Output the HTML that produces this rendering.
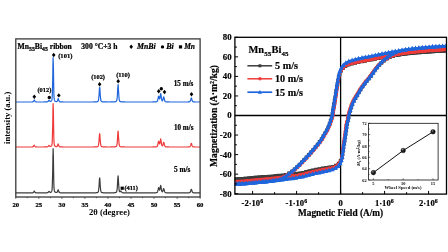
<!DOCTYPE html>
<html><head><meta charset="utf-8"><title>Mn55Bi45 ribbon XRD and hysteresis</title>
<style>html,body{margin:0;padding:0;background:#fff;overflow:hidden}svg{display:block}text{font-family:"Liberation Serif","DejaVu Serif",serif;font-weight:bold;fill:#000}.i{font-style:italic}.b text{stroke:#000;stroke-width:0.22px}.c text{stroke:#000;stroke-width:0.18px}.c .n text{stroke:none}</style></head><body>
<svg width="448" height="252" viewBox="0 0 448 252">
<rect width="448" height="252" fill="#fff"/>
<polyline points="15.8,192.9 16.0,192.9 16.3,192.9 16.5,192.9 16.7,192.9 17.0,192.9 17.2,192.9 17.4,192.9 17.6,192.9 17.9,192.9 18.1,192.9 18.3,192.9 18.6,192.9 18.8,192.9 19.0,192.9 19.3,192.9 19.5,192.9 19.7,192.9 19.9,192.9 20.2,192.9 20.4,192.9 20.6,192.9 20.9,192.9 21.1,192.9 21.3,192.9 21.6,192.9 21.8,192.9 22.0,192.9 22.3,192.9 22.5,192.9 22.7,192.9 22.9,192.9 23.2,192.9 23.4,192.9 23.6,192.9 23.9,192.9 24.1,192.9 24.3,192.9 24.6,192.9 24.8,192.9 25.0,192.9 25.2,192.9 25.5,192.9 25.7,192.9 25.9,192.9 26.2,192.9 26.4,192.9 26.6,192.9 26.9,192.9 27.1,192.9 27.3,192.9 27.5,192.9 27.8,192.9 28.0,192.9 28.2,192.9 28.5,192.9 28.7,192.9 28.9,192.9 29.2,192.9 29.4,192.9 29.6,192.9 29.9,192.9 30.1,192.9 30.3,192.9 30.5,192.9 30.8,192.9 31.0,192.9 31.2,192.9 31.5,192.9 31.7,192.9 31.9,192.9 32.2,192.8 32.4,192.8 32.6,192.8 32.8,192.8 33.1,192.7 33.3,192.5 33.5,192.2 33.8,191.8 34.0,191.3 34.2,191.1 34.5,191.3 34.7,191.8 34.9,192.2 35.2,192.5 35.4,192.7 35.6,192.8 35.8,192.8 36.1,192.8 36.3,192.8 36.5,192.9 36.8,192.9 37.0,192.9 37.2,192.9 37.5,192.9 37.7,192.9 37.9,192.9 38.1,192.9 38.4,192.9 38.6,192.9 38.8,192.9 39.1,192.9 39.3,192.9 39.5,192.9 39.8,192.9 40.0,192.9 40.2,192.9 40.5,192.9 40.7,192.9 40.9,192.9 41.1,192.9 41.4,192.9 41.6,192.9 41.8,192.9 42.1,192.9 42.3,192.9 42.5,192.9 42.8,192.9 43.0,192.9 43.2,192.9 43.4,192.9 43.7,192.9 43.9,192.9 44.1,192.8 44.4,192.8 44.6,192.8 44.8,192.8 45.1,192.8 45.3,192.8 45.5,192.8 45.7,192.8 46.0,192.8 46.2,192.8 46.4,192.8 46.7,192.8 46.9,192.8 47.1,192.7 47.4,192.7 47.6,192.6 47.8,192.5 48.1,192.4 48.3,192.1 48.5,191.8 48.7,191.6 49.0,191.4 49.2,191.5 49.4,191.8 49.7,192.0 49.9,192.2 50.1,192.3 50.4,192.4 50.6,192.3 50.8,192.3 51.0,192.2 51.3,192.0 51.5,191.8 51.7,191.3 52.0,190.4 52.2,187.9 52.4,182.2 52.7,171.7 52.9,157.4 53.1,148.7 53.4,157.4 53.6,171.7 53.8,182.2 54.0,187.9 54.3,190.4 54.5,191.3 54.7,191.8 55.0,192.0 55.2,192.2 55.4,192.3 55.7,192.4 55.9,192.4 56.1,192.5 56.3,192.5 56.6,192.5 56.8,192.4 57.0,192.3 57.3,192.0 57.5,191.5 57.7,190.8 58.0,190.1 58.2,189.8 58.4,190.2 58.6,190.9 58.9,191.6 59.1,192.1 59.3,192.4 59.6,192.6 59.8,192.7 60.0,192.7 60.3,192.8 60.5,192.8 60.7,192.8 61.0,192.8 61.2,192.8 61.4,192.8 61.6,192.8 61.9,192.8 62.1,192.8 62.3,192.8 62.6,192.8 62.8,192.8 63.0,192.9 63.3,192.9 63.5,192.9 63.7,192.9 63.9,192.9 64.2,192.9 64.4,192.9 64.6,192.9 64.9,192.9 65.1,192.9 65.3,192.9 65.6,192.9 65.8,192.9 66.0,192.9 66.3,192.9 66.5,192.9 66.7,192.9 66.9,192.9 67.2,192.9 67.4,192.9 67.6,192.9 67.9,192.9 68.1,192.9 68.3,192.9 68.6,192.9 68.8,192.9 69.0,192.9 69.2,192.9 69.5,192.9 69.7,192.9 69.9,192.9 70.2,192.9 70.4,192.9 70.6,192.9 70.9,192.9 71.1,192.9 71.3,192.9 71.6,192.9 71.8,192.9 72.0,192.9 72.2,192.9 72.5,192.9 72.7,192.9 72.9,192.9 73.2,192.9 73.4,192.9 73.6,192.9 73.9,192.9 74.1,192.9 74.3,192.9 74.5,192.9 74.8,192.9 75.0,192.9 75.2,192.9 75.5,192.9 75.7,192.9 75.9,192.9 76.2,192.9 76.4,192.9 76.6,192.9 76.8,192.9 77.1,192.9 77.3,192.9 77.5,192.9 77.8,192.9 78.0,192.9 78.2,192.9 78.5,192.9 78.7,192.9 78.9,192.9 79.2,192.9 79.4,192.9 79.6,192.9 79.8,192.9 80.1,192.9 80.3,192.9 80.5,192.9 80.8,192.9 81.0,192.9 81.2,192.9 81.5,192.9 81.7,192.9 81.9,192.9 82.1,192.9 82.4,192.9 82.6,192.9 82.8,192.9 83.1,192.9 83.3,192.9 83.5,192.9 83.8,192.9 84.0,192.9 84.2,192.9 84.5,192.9 84.7,192.9 84.9,192.9 85.1,192.9 85.4,192.9 85.6,192.9 85.8,192.9 86.1,192.9 86.3,192.9 86.5,192.9 86.8,192.9 87.0,192.9 87.2,192.9 87.4,192.9 87.7,192.9 87.9,192.9 88.1,192.9 88.4,192.9 88.6,192.9 88.8,192.9 89.1,192.9 89.3,192.9 89.5,192.9 89.8,192.9 90.0,192.9 90.2,192.9 90.4,192.9 90.7,192.9 90.9,192.9 91.1,192.9 91.4,192.9 91.6,192.9 91.8,192.9 92.1,192.9 92.3,192.9 92.5,192.9 92.7,192.9 93.0,192.9 93.2,192.9 93.4,192.8 93.7,192.8 93.9,192.8 94.1,192.8 94.4,192.8 94.6,192.8 94.8,192.8 95.0,192.8 95.3,192.8 95.5,192.8 95.7,192.8 96.0,192.8 96.2,192.7 96.4,192.7 96.7,192.7 96.9,192.7 97.1,192.6 97.4,192.6 97.6,192.5 97.8,192.4 98.0,192.2 98.3,191.7 98.5,190.9 98.7,189.3 99.0,186.7 99.2,183.3 99.4,179.7 99.7,177.9 99.9,179.7 100.1,183.3 100.3,186.7 100.6,189.3 100.8,190.9 101.0,191.7 101.3,192.2 101.5,192.4 101.7,192.5 102.0,192.6 102.2,192.6 102.4,192.7 102.7,192.7 102.9,192.7 103.1,192.7 103.3,192.8 103.6,192.8 103.8,192.8 104.0,192.8 104.3,192.8 104.5,192.8 104.7,192.8 105.0,192.8 105.2,192.8 105.4,192.8 105.6,192.8 105.9,192.8 106.1,192.8 106.3,192.8 106.6,192.8 106.8,192.8 107.0,192.8 107.3,192.8 107.5,192.8 107.7,192.8 108.0,192.9 108.2,192.9 108.4,192.9 108.6,192.9 108.9,192.9 109.1,192.9 109.3,192.9 109.6,192.8 109.8,192.8 110.0,192.8 110.3,192.8 110.5,192.8 110.7,192.8 110.9,192.8 111.2,192.8 111.4,192.8 111.6,192.8 111.9,192.8 112.1,192.8 112.3,192.8 112.6,192.8 112.8,192.8 113.0,192.8 113.2,192.8 113.5,192.8 113.7,192.8 113.9,192.8 114.2,192.8 114.4,192.7 114.6,192.7 114.9,192.7 115.1,192.7 115.3,192.6 115.6,192.6 115.8,192.5 116.0,192.4 116.2,192.3 116.5,192.0 116.7,191.6 116.9,190.6 117.2,188.8 117.4,185.9 117.6,182.0 117.9,177.9 118.1,175.9 118.3,177.9 118.5,182.0 118.8,185.9 119.0,188.7 119.2,190.5 119.5,191.4 119.7,191.7 119.9,191.8 120.2,191.7 120.4,191.4 120.6,191.1 120.9,191.0 121.1,191.2 121.3,191.6 121.5,191.9 121.8,192.2 122.0,192.5 122.2,192.6 122.5,192.7 122.7,192.7 122.9,192.8 123.2,192.8 123.4,192.8 123.6,192.8 123.8,192.8 124.1,192.8 124.3,192.8 124.5,192.8 124.8,192.8 125.0,192.8 125.2,192.8 125.5,192.8 125.7,192.8 125.9,192.9 126.1,192.9 126.4,192.9 126.6,192.9 126.8,192.9 127.1,192.9 127.3,192.9 127.5,192.9 127.8,192.9 128.0,192.9 128.2,192.9 128.5,192.9 128.7,192.9 128.9,192.9 129.1,192.9 129.4,192.9 129.6,192.9 129.8,192.9 130.1,192.9 130.3,192.9 130.5,192.9 130.8,192.9 131.0,192.9 131.2,192.9 131.4,192.9 131.7,192.9 131.9,192.9 132.1,192.9 132.4,192.9 132.6,192.9 132.8,192.9 133.1,192.9 133.3,192.9 133.5,192.9 133.8,192.9 134.0,192.9 134.2,192.9 134.4,192.9 134.7,192.9 134.9,192.9 135.1,192.9 135.4,192.9 135.6,192.9 135.8,192.9 136.1,192.9 136.3,192.9 136.5,192.9 136.7,192.9 137.0,192.9 137.2,192.9 137.4,192.9 137.7,192.9 137.9,192.9 138.1,192.9 138.4,192.9 138.6,192.9 138.8,192.9 139.1,192.9 139.3,192.9 139.5,192.9 139.7,192.9 140.0,192.9 140.2,192.9 140.4,192.9 140.7,192.9 140.9,192.9 141.1,192.9 141.4,192.9 141.6,192.9 141.8,192.9 142.0,192.9 142.3,192.9 142.5,192.9 142.7,192.9 143.0,192.9 143.2,192.9 143.4,192.9 143.7,192.9 143.9,192.9 144.1,192.9 144.3,192.9 144.6,192.9 144.8,192.9 145.0,192.9 145.3,192.9 145.5,192.9 145.7,192.9 146.0,192.9 146.2,192.9 146.4,192.9 146.7,192.9 146.9,192.9 147.1,192.9 147.3,192.9 147.6,192.9 147.8,192.9 148.0,192.9 148.3,192.9 148.5,192.9 148.7,192.9 149.0,192.9 149.2,192.9 149.4,192.9 149.6,192.9 149.9,192.9 150.1,192.9 150.3,192.9 150.6,192.9 150.8,192.9 151.0,192.9 151.3,192.9 151.5,192.9 151.7,192.9 152.0,192.9 152.2,192.9 152.4,192.9 152.6,192.9 152.9,192.9 153.1,192.8 153.3,192.8 153.6,192.8 153.8,192.8 154.0,192.8 154.3,192.8 154.5,192.8 154.7,192.8 154.9,192.8 155.2,192.8 155.4,192.8 155.6,192.8 155.9,192.7 156.1,192.7 156.3,192.7 156.6,192.6 156.8,192.6 157.0,192.4 157.3,192.2 157.5,191.8 157.7,191.2 157.9,190.3 158.2,189.2 158.4,188.2 158.6,187.6 158.9,188.1 159.1,188.9 159.3,189.7 159.6,190.1 159.8,189.9 160.0,189.0 160.2,187.7 160.5,186.2 160.7,185.4 160.9,186.2 161.2,187.9 161.4,189.4 161.6,190.6 161.9,191.4 162.1,191.8 162.3,191.9 162.5,191.7 162.8,191.3 163.0,190.6 163.2,189.8 163.5,188.9 163.7,188.6 163.9,189.0 164.2,189.9 164.4,190.7 164.6,191.5 164.9,192.0 165.1,192.3 165.3,192.5 165.5,192.6 165.8,192.7 166.0,192.7 166.2,192.8 166.5,192.8 166.7,192.8 166.9,192.8 167.2,192.8 167.4,192.8 167.6,192.8 167.8,192.8 168.1,192.8 168.3,192.8 168.5,192.8 168.8,192.8 169.0,192.9 169.2,192.9 169.5,192.9 169.7,192.9 169.9,192.9 170.2,192.9 170.4,192.9 170.6,192.9 170.8,192.9 171.1,192.9 171.3,192.9 171.5,192.9 171.8,192.9 172.0,192.9 172.2,192.9 172.5,192.9 172.7,192.9 172.9,192.9 173.1,192.9 173.4,192.9 173.6,192.9 173.8,192.9 174.1,192.9 174.3,192.9 174.5,192.9 174.8,192.9 175.0,192.9 175.2,192.9 175.4,192.9 175.7,192.9 175.9,192.9 176.1,192.9 176.4,192.9 176.6,192.9 176.8,192.9 177.1,192.9 177.3,192.9 177.5,192.9 177.8,192.9 178.0,192.9 178.2,192.9 178.4,192.9 178.7,192.9 178.9,192.9 179.1,192.9 179.4,192.9 179.6,192.9 179.8,192.9 180.1,192.9 180.3,192.9 180.5,192.9 180.7,192.9 181.0,192.9 181.2,192.9 181.4,192.9 181.7,192.9 181.9,192.9 182.1,192.9 182.4,192.9 182.6,192.9 182.8,192.9 183.1,192.9 183.3,192.9 183.5,192.9 183.7,192.9 184.0,192.9 184.2,192.9 184.4,192.9 184.7,192.9 184.9,192.9 185.1,192.9 185.4,192.9 185.6,192.9 185.8,192.9 186.0,192.9 186.3,192.9 186.5,192.9 186.7,192.9 187.0,192.9 187.2,192.9 187.4,192.9 187.7,192.9 187.9,192.8 188.1,192.8 188.4,192.8 188.6,192.8 188.8,192.8 189.0,192.8 189.3,192.8 189.5,192.7 189.7,192.6 190.0,192.5 190.2,192.2 190.4,191.8 190.7,191.1 190.9,190.4 191.1,189.6 191.3,189.3 191.6,189.6 191.8,190.4 192.0,191.1 192.3,191.8 192.5,192.2 192.7,192.5 193.0,192.6 193.2,192.7 193.4,192.8 193.6,192.8 193.9,192.8 194.1,192.8 194.3,192.8 194.6,192.8 194.8,192.9 195.0,192.9 195.3,192.9 195.5,192.9 195.7,192.9 196.0,192.9 196.2,192.9 196.4,192.9 196.6,192.9 196.9,192.9 197.1,192.9 197.3,192.9 197.6,192.9 197.8,192.9 198.0,192.9 198.3,192.9 198.5,192.9 198.7,192.9 198.9,192.9 199.2,192.9 199.4,192.9 199.6,192.9 199.9,192.9 200.1,192.9" fill="none" stroke="#3c3c3c" stroke-width="1.2" stroke-linejoin="round"/>
<polyline points="15.8,147.0 16.0,147.0 16.3,147.0 16.5,147.0 16.7,147.0 17.0,147.0 17.2,147.0 17.4,147.0 17.6,147.0 17.9,147.0 18.1,147.0 18.3,147.0 18.6,147.0 18.8,147.0 19.0,147.0 19.3,147.0 19.5,147.0 19.7,147.0 19.9,147.0 20.2,147.0 20.4,147.0 20.6,147.0 20.9,147.0 21.1,147.0 21.3,147.0 21.6,147.0 21.8,147.0 22.0,147.0 22.3,147.0 22.5,147.0 22.7,147.0 22.9,147.0 23.2,147.0 23.4,147.0 23.6,147.0 23.9,147.0 24.1,147.0 24.3,147.0 24.6,147.0 24.8,147.0 25.0,147.0 25.2,147.0 25.5,147.0 25.7,147.0 25.9,147.0 26.2,147.0 26.4,147.0 26.6,147.0 26.9,147.0 27.1,147.0 27.3,147.0 27.5,147.0 27.8,147.0 28.0,147.0 28.2,147.0 28.5,147.0 28.7,147.0 28.9,147.0 29.2,147.0 29.4,147.0 29.6,147.0 29.9,147.0 30.1,147.0 30.3,147.0 30.5,147.0 30.8,147.0 31.0,147.0 31.2,147.0 31.5,147.0 31.7,147.0 31.9,147.0 32.2,146.9 32.4,146.9 32.6,146.9 32.8,146.9 33.1,146.8 33.3,146.6 33.5,146.3 33.8,145.9 34.0,145.4 34.2,145.2 34.5,145.4 34.7,145.9 34.9,146.3 35.2,146.6 35.4,146.8 35.6,146.9 35.8,146.9 36.1,146.9 36.3,146.9 36.5,147.0 36.8,147.0 37.0,147.0 37.2,147.0 37.5,147.0 37.7,147.0 37.9,147.0 38.1,147.0 38.4,147.0 38.6,147.0 38.8,147.0 39.1,147.0 39.3,147.0 39.5,147.0 39.8,147.0 40.0,147.0 40.2,147.0 40.5,147.0 40.7,147.0 40.9,147.0 41.1,147.0 41.4,147.0 41.6,147.0 41.8,147.0 42.1,147.0 42.3,147.0 42.5,147.0 42.8,147.0 43.0,147.0 43.2,147.0 43.4,147.0 43.7,147.0 43.9,147.0 44.1,146.9 44.4,146.9 44.6,146.9 44.8,146.9 45.1,146.9 45.3,146.9 45.5,146.9 45.7,146.9 46.0,146.9 46.2,146.9 46.4,146.9 46.7,146.9 46.9,146.9 47.1,146.8 47.4,146.8 47.6,146.7 47.8,146.6 48.1,146.4 48.3,146.2 48.5,145.9 48.7,145.6 49.0,145.4 49.2,145.5 49.4,145.8 49.7,146.1 49.9,146.3 50.1,146.4 50.4,146.5 50.6,146.4 50.8,146.4 51.0,146.3 51.3,146.1 51.5,145.9 51.7,145.5 52.0,144.5 52.2,142.1 52.4,136.5 52.7,126.1 52.9,112.1 53.1,103.5 53.4,112.1 53.6,126.1 53.8,136.5 54.0,142.1 54.3,144.5 54.5,145.5 54.7,145.9 55.0,146.1 55.2,146.3 55.4,146.4 55.7,146.5 55.9,146.6 56.1,146.6 56.3,146.6 56.6,146.6 56.8,146.5 57.0,146.4 57.3,146.1 57.5,145.6 57.7,144.9 58.0,144.2 58.2,143.9 58.4,144.3 58.6,145.0 58.9,145.7 59.1,146.2 59.3,146.5 59.6,146.7 59.8,146.8 60.0,146.8 60.3,146.9 60.5,146.9 60.7,146.9 61.0,146.9 61.2,146.9 61.4,146.9 61.6,146.9 61.9,146.9 62.1,146.9 62.3,146.9 62.6,146.9 62.8,146.9 63.0,147.0 63.3,147.0 63.5,147.0 63.7,147.0 63.9,147.0 64.2,147.0 64.4,147.0 64.6,147.0 64.9,147.0 65.1,147.0 65.3,147.0 65.6,147.0 65.8,147.0 66.0,147.0 66.3,147.0 66.5,147.0 66.7,147.0 66.9,147.0 67.2,147.0 67.4,147.0 67.6,147.0 67.9,147.0 68.1,147.0 68.3,147.0 68.6,147.0 68.8,147.0 69.0,147.0 69.2,147.0 69.5,147.0 69.7,147.0 69.9,147.0 70.2,147.0 70.4,147.0 70.6,147.0 70.9,147.0 71.1,147.0 71.3,147.0 71.6,147.0 71.8,147.0 72.0,147.0 72.2,147.0 72.5,147.0 72.7,147.0 72.9,147.0 73.2,147.0 73.4,147.0 73.6,147.0 73.9,147.0 74.1,147.0 74.3,147.0 74.5,147.0 74.8,147.0 75.0,147.0 75.2,147.0 75.5,147.0 75.7,147.0 75.9,147.0 76.2,147.0 76.4,147.0 76.6,147.0 76.8,147.0 77.1,147.0 77.3,147.0 77.5,147.0 77.8,147.0 78.0,147.0 78.2,147.0 78.5,147.0 78.7,147.0 78.9,147.0 79.2,147.0 79.4,147.0 79.6,147.0 79.8,147.0 80.1,147.0 80.3,147.0 80.5,147.0 80.8,147.0 81.0,147.0 81.2,147.0 81.5,147.0 81.7,147.0 81.9,147.0 82.1,147.0 82.4,147.0 82.6,147.0 82.8,147.0 83.1,147.0 83.3,147.0 83.5,147.0 83.8,147.0 84.0,147.0 84.2,147.0 84.5,147.0 84.7,147.0 84.9,147.0 85.1,147.0 85.4,147.0 85.6,147.0 85.8,147.0 86.1,147.0 86.3,147.0 86.5,147.0 86.8,147.0 87.0,147.0 87.2,147.0 87.4,147.0 87.7,147.0 87.9,147.0 88.1,147.0 88.4,147.0 88.6,147.0 88.8,147.0 89.1,147.0 89.3,147.0 89.5,147.0 89.8,147.0 90.0,147.0 90.2,147.0 90.4,147.0 90.7,147.0 90.9,147.0 91.1,147.0 91.4,147.0 91.6,147.0 91.8,147.0 92.1,147.0 92.3,147.0 92.5,147.0 92.7,147.0 93.0,147.0 93.2,147.0 93.4,147.0 93.7,146.9 93.9,146.9 94.1,146.9 94.4,146.9 94.6,146.9 94.8,146.9 95.0,146.9 95.3,146.9 95.5,146.9 95.7,146.9 96.0,146.9 96.2,146.9 96.4,146.8 96.7,146.8 96.9,146.8 97.1,146.8 97.4,146.7 97.6,146.6 97.8,146.5 98.0,146.3 98.3,145.9 98.5,145.2 98.7,143.7 99.0,141.5 99.2,138.4 99.4,135.1 99.7,133.5 99.9,135.1 100.1,138.4 100.3,141.5 100.6,143.7 100.8,145.2 101.0,145.9 101.3,146.3 101.5,146.5 101.7,146.6 102.0,146.7 102.2,146.7 102.4,146.8 102.7,146.8 102.9,146.8 103.1,146.9 103.3,146.9 103.6,146.9 103.8,146.9 104.0,146.9 104.3,146.9 104.5,146.9 104.7,146.9 105.0,146.9 105.2,146.9 105.4,146.9 105.6,146.9 105.9,146.9 106.1,146.9 106.3,146.9 106.6,146.9 106.8,147.0 107.0,147.0 107.3,147.0 107.5,147.0 107.7,147.0 108.0,147.0 108.2,147.0 108.4,147.0 108.6,147.0 108.9,147.0 109.1,147.0 109.3,147.0 109.6,147.0 109.8,147.0 110.0,147.0 110.3,147.0 110.5,147.0 110.7,146.9 110.9,146.9 111.2,146.9 111.4,146.9 111.6,146.9 111.9,146.9 112.1,146.9 112.3,146.9 112.6,146.9 112.8,146.9 113.0,146.9 113.2,146.9 113.5,146.9 113.7,146.9 113.9,146.9 114.2,146.9 114.4,146.9 114.6,146.8 114.9,146.8 115.1,146.8 115.3,146.7 115.6,146.7 115.8,146.6 116.0,146.6 116.2,146.4 116.5,146.2 116.7,145.7 116.9,144.8 117.2,143.1 117.4,140.4 117.6,136.8 117.9,132.9 118.1,131.0 118.3,132.9 118.5,136.8 118.8,140.4 119.0,143.1 119.2,144.8 119.5,145.7 119.7,146.2 119.9,146.4 120.2,146.6 120.4,146.6 120.6,146.7 120.9,146.8 121.1,146.8 121.3,146.8 121.5,146.8 121.8,146.9 122.0,146.9 122.2,146.9 122.5,146.9 122.7,146.9 122.9,146.9 123.2,146.9 123.4,146.9 123.6,146.9 123.8,146.9 124.1,146.9 124.3,146.9 124.5,146.9 124.8,147.0 125.0,147.0 125.2,147.0 125.5,147.0 125.7,147.0 125.9,147.0 126.1,147.0 126.4,147.0 126.6,147.0 126.8,147.0 127.1,147.0 127.3,147.0 127.5,147.0 127.8,147.0 128.0,147.0 128.2,147.0 128.5,147.0 128.7,147.0 128.9,147.0 129.1,147.0 129.4,147.0 129.6,147.0 129.8,147.0 130.1,147.0 130.3,147.0 130.5,147.0 130.8,147.0 131.0,147.0 131.2,147.0 131.4,147.0 131.7,147.0 131.9,147.0 132.1,147.0 132.4,147.0 132.6,147.0 132.8,147.0 133.1,147.0 133.3,147.0 133.5,147.0 133.8,147.0 134.0,147.0 134.2,147.0 134.4,147.0 134.7,147.0 134.9,147.0 135.1,147.0 135.4,147.0 135.6,147.0 135.8,147.0 136.1,147.0 136.3,147.0 136.5,147.0 136.7,147.0 137.0,147.0 137.2,147.0 137.4,147.0 137.7,147.0 137.9,147.0 138.1,147.0 138.4,147.0 138.6,147.0 138.8,147.0 139.1,147.0 139.3,147.0 139.5,147.0 139.7,147.0 140.0,147.0 140.2,147.0 140.4,147.0 140.7,147.0 140.9,147.0 141.1,147.0 141.4,147.0 141.6,147.0 141.8,147.0 142.0,147.0 142.3,147.0 142.5,147.0 142.7,147.0 143.0,147.0 143.2,147.0 143.4,147.0 143.7,147.0 143.9,147.0 144.1,147.0 144.3,147.0 144.6,147.0 144.8,147.0 145.0,147.0 145.3,147.0 145.5,147.0 145.7,147.0 146.0,147.0 146.2,147.0 146.4,147.0 146.7,147.0 146.9,147.0 147.1,147.0 147.3,147.0 147.6,147.0 147.8,147.0 148.0,147.0 148.3,147.0 148.5,147.0 148.7,147.0 149.0,147.0 149.2,147.0 149.4,147.0 149.6,147.0 149.9,147.0 150.1,147.0 150.3,147.0 150.6,147.0 150.8,147.0 151.0,147.0 151.3,147.0 151.5,147.0 151.7,147.0 152.0,147.0 152.2,147.0 152.4,147.0 152.6,147.0 152.9,146.9 153.1,146.9 153.3,146.9 153.6,146.9 153.8,146.9 154.0,146.9 154.3,146.9 154.5,146.9 154.7,146.9 154.9,146.9 155.2,146.9 155.4,146.9 155.6,146.9 155.9,146.8 156.1,146.8 156.3,146.8 156.6,146.7 156.8,146.6 157.0,146.5 157.3,146.2 157.5,145.8 157.7,145.1 157.9,144.2 158.2,143.0 158.4,141.8 158.6,141.2 158.9,141.7 159.1,142.7 159.3,143.5 159.6,143.9 159.8,143.7 160.0,142.8 160.2,141.3 160.5,139.7 160.7,138.9 160.9,139.8 161.2,141.5 161.4,143.2 161.6,144.6 161.9,145.4 162.1,145.8 162.3,145.9 162.5,145.7 162.8,145.3 163.0,144.6 163.2,143.7 163.5,142.8 163.7,142.3 163.9,142.8 164.2,143.7 164.4,144.7 164.6,145.5 164.9,146.0 165.1,146.4 165.3,146.6 165.5,146.7 165.8,146.8 166.0,146.8 166.2,146.8 166.5,146.9 166.7,146.9 166.9,146.9 167.2,146.9 167.4,146.9 167.6,146.9 167.8,146.9 168.1,146.9 168.3,146.9 168.5,146.9 168.8,146.9 169.0,146.9 169.2,147.0 169.5,147.0 169.7,147.0 169.9,147.0 170.2,147.0 170.4,147.0 170.6,147.0 170.8,147.0 171.1,147.0 171.3,147.0 171.5,147.0 171.8,147.0 172.0,147.0 172.2,147.0 172.5,147.0 172.7,147.0 172.9,147.0 173.1,147.0 173.4,147.0 173.6,147.0 173.8,147.0 174.1,147.0 174.3,147.0 174.5,147.0 174.8,147.0 175.0,147.0 175.2,147.0 175.4,147.0 175.7,147.0 175.9,147.0 176.1,147.0 176.4,147.0 176.6,147.0 176.8,147.0 177.1,147.0 177.3,147.0 177.5,147.0 177.8,147.0 178.0,147.0 178.2,147.0 178.4,147.0 178.7,147.0 178.9,147.0 179.1,147.0 179.4,147.0 179.6,147.0 179.8,147.0 180.1,147.0 180.3,147.0 180.5,147.0 180.7,147.0 181.0,147.0 181.2,147.0 181.4,147.0 181.7,147.0 181.9,147.0 182.1,147.0 182.4,147.0 182.6,147.0 182.8,147.0 183.1,147.0 183.3,147.0 183.5,147.0 183.7,147.0 184.0,147.0 184.2,147.0 184.4,147.0 184.7,147.0 184.9,147.0 185.1,147.0 185.4,147.0 185.6,147.0 185.8,147.0 186.0,147.0 186.3,147.0 186.5,147.0 186.7,147.0 187.0,147.0 187.2,147.0 187.4,147.0 187.7,147.0 187.9,146.9 188.1,146.9 188.4,146.9 188.6,146.9 188.8,146.9 189.0,146.9 189.3,146.9 189.5,146.8 189.7,146.7 190.0,146.6 190.2,146.3 190.4,145.9 190.7,145.2 190.9,144.5 191.1,143.7 191.3,143.4 191.6,143.7 191.8,144.5 192.0,145.2 192.3,145.9 192.5,146.3 192.7,146.6 193.0,146.7 193.2,146.8 193.4,146.9 193.6,146.9 193.9,146.9 194.1,146.9 194.3,146.9 194.6,146.9 194.8,147.0 195.0,147.0 195.3,147.0 195.5,147.0 195.7,147.0 196.0,147.0 196.2,147.0 196.4,147.0 196.6,147.0 196.9,147.0 197.1,147.0 197.3,147.0 197.6,147.0 197.8,147.0 198.0,147.0 198.3,147.0 198.5,147.0 198.7,147.0 198.9,147.0 199.2,147.0 199.4,147.0 199.6,147.0 199.9,147.0 200.1,147.0" fill="none" stroke="#f03a3a" stroke-width="1.2" stroke-linejoin="round"/>
<polyline points="15.8,102.0 16.0,102.0 16.3,102.0 16.5,102.0 16.7,102.0 17.0,102.0 17.2,102.0 17.4,102.0 17.6,102.0 17.9,102.0 18.1,102.0 18.3,102.0 18.6,102.0 18.8,102.0 19.0,102.0 19.3,102.0 19.5,102.0 19.7,102.0 19.9,102.0 20.2,102.0 20.4,102.0 20.6,102.0 20.9,102.0 21.1,102.0 21.3,102.0 21.6,102.0 21.8,102.0 22.0,102.0 22.3,102.0 22.5,102.0 22.7,102.0 22.9,102.0 23.2,102.0 23.4,102.0 23.6,102.0 23.9,102.0 24.1,102.0 24.3,102.0 24.6,102.0 24.8,102.0 25.0,102.0 25.2,102.0 25.5,102.0 25.7,102.0 25.9,102.0 26.2,102.0 26.4,102.0 26.6,102.0 26.9,102.0 27.1,102.0 27.3,102.0 27.5,102.0 27.8,102.0 28.0,102.0 28.2,102.0 28.5,102.0 28.7,102.0 28.9,102.0 29.2,102.0 29.4,102.0 29.6,102.0 29.9,102.0 30.1,102.0 30.3,102.0 30.5,102.0 30.8,102.0 31.0,102.0 31.2,102.0 31.5,102.0 31.7,102.0 31.9,102.0 32.2,101.9 32.4,101.9 32.6,101.9 32.8,101.9 33.1,101.8 33.3,101.6 33.5,101.3 33.8,100.8 34.0,100.3 34.2,100.0 34.5,100.3 34.7,100.8 34.9,101.3 35.2,101.6 35.4,101.8 35.6,101.9 35.8,101.9 36.1,101.9 36.3,101.9 36.5,101.9 36.8,102.0 37.0,102.0 37.2,102.0 37.5,102.0 37.7,102.0 37.9,102.0 38.1,102.0 38.4,102.0 38.6,102.0 38.8,102.0 39.1,102.0 39.3,102.0 39.5,102.0 39.8,102.0 40.0,102.0 40.2,102.0 40.5,102.0 40.7,102.0 40.9,102.0 41.1,102.0 41.4,102.0 41.6,102.0 41.8,102.0 42.1,102.0 42.3,102.0 42.5,102.0 42.8,102.0 43.0,102.0 43.2,102.0 43.4,102.0 43.7,102.0 43.9,102.0 44.1,101.9 44.4,101.9 44.6,101.9 44.8,101.9 45.1,101.9 45.3,101.9 45.5,101.9 45.7,101.9 46.0,101.9 46.2,101.9 46.4,101.9 46.7,101.9 46.9,101.9 47.1,101.8 47.4,101.8 47.6,101.7 47.8,101.6 48.1,101.4 48.3,101.1 48.5,100.8 48.7,100.5 49.0,100.3 49.2,100.4 49.4,100.7 49.7,101.0 49.9,101.2 50.1,101.4 50.4,101.4 50.6,101.4 50.8,101.4 51.0,101.3 51.3,101.1 51.5,100.9 51.7,100.4 52.0,99.4 52.2,97.0 52.4,91.2 52.7,80.6 52.9,66.3 53.1,57.5 53.4,66.3 53.6,80.6 53.8,91.2 54.0,97.0 54.3,99.4 54.5,100.4 54.7,100.9 55.0,101.1 55.2,101.3 55.4,101.4 55.7,101.5 55.9,101.5 56.1,101.6 56.3,101.6 56.6,101.6 56.8,101.5 57.0,101.4 57.3,101.0 57.5,100.5 57.7,99.8 58.0,99.0 58.2,98.6 58.4,99.0 58.6,99.8 58.9,100.6 59.1,101.1 59.3,101.5 59.6,101.7 59.8,101.8 60.0,101.8 60.3,101.8 60.5,101.9 60.7,101.9 61.0,101.9 61.2,101.9 61.4,101.9 61.6,101.9 61.9,101.9 62.1,101.9 62.3,101.9 62.6,101.9 62.8,101.9 63.0,101.9 63.3,102.0 63.5,102.0 63.7,102.0 63.9,102.0 64.2,102.0 64.4,102.0 64.6,102.0 64.9,102.0 65.1,102.0 65.3,102.0 65.6,102.0 65.8,102.0 66.0,102.0 66.3,102.0 66.5,102.0 66.7,102.0 66.9,102.0 67.2,102.0 67.4,102.0 67.6,102.0 67.9,102.0 68.1,102.0 68.3,102.0 68.6,102.0 68.8,102.0 69.0,102.0 69.2,102.0 69.5,102.0 69.7,102.0 69.9,102.0 70.2,102.0 70.4,102.0 70.6,102.0 70.9,102.0 71.1,102.0 71.3,102.0 71.6,102.0 71.8,102.0 72.0,102.0 72.2,102.0 72.5,102.0 72.7,102.0 72.9,102.0 73.2,102.0 73.4,102.0 73.6,102.0 73.9,102.0 74.1,102.0 74.3,102.0 74.5,102.0 74.8,102.0 75.0,102.0 75.2,102.0 75.5,102.0 75.7,102.0 75.9,102.0 76.2,102.0 76.4,102.0 76.6,102.0 76.8,102.0 77.1,102.0 77.3,102.0 77.5,102.0 77.8,102.0 78.0,102.0 78.2,102.0 78.5,102.0 78.7,102.0 78.9,102.0 79.2,102.0 79.4,102.0 79.6,102.0 79.8,102.0 80.1,102.0 80.3,102.0 80.5,102.0 80.8,102.0 81.0,102.0 81.2,102.0 81.5,102.0 81.7,102.0 81.9,102.0 82.1,102.0 82.4,102.0 82.6,102.0 82.8,102.0 83.1,102.0 83.3,102.0 83.5,102.0 83.8,102.0 84.0,102.0 84.2,102.0 84.5,102.0 84.7,102.0 84.9,102.0 85.1,102.0 85.4,102.0 85.6,102.0 85.8,102.0 86.1,102.0 86.3,102.0 86.5,102.0 86.8,102.0 87.0,102.0 87.2,102.0 87.4,102.0 87.7,102.0 87.9,102.0 88.1,102.0 88.4,102.0 88.6,102.0 88.8,102.0 89.1,102.0 89.3,102.0 89.5,102.0 89.8,102.0 90.0,102.0 90.2,102.0 90.4,102.0 90.7,102.0 90.9,102.0 91.1,102.0 91.4,102.0 91.6,102.0 91.8,102.0 92.1,102.0 92.3,102.0 92.5,102.0 92.7,102.0 93.0,102.0 93.2,102.0 93.4,101.9 93.7,101.9 93.9,101.9 94.1,101.9 94.4,101.9 94.6,101.9 94.8,101.9 95.0,101.9 95.3,101.9 95.5,101.9 95.7,101.9 96.0,101.9 96.2,101.8 96.4,101.8 96.7,101.8 96.9,101.8 97.1,101.7 97.4,101.7 97.6,101.6 97.8,101.5 98.0,101.3 98.3,100.8 98.5,100.0 98.7,98.4 99.0,95.8 99.2,92.4 99.4,88.8 99.7,87.0 99.9,88.8 100.1,92.4 100.3,95.8 100.6,98.4 100.8,100.0 101.0,100.8 101.3,101.3 101.5,101.5 101.7,101.6 102.0,101.7 102.2,101.7 102.4,101.8 102.7,101.8 102.9,101.8 103.1,101.8 103.3,101.9 103.6,101.9 103.8,101.9 104.0,101.9 104.3,101.9 104.5,101.9 104.7,101.9 105.0,101.9 105.2,101.9 105.4,101.9 105.6,101.9 105.9,101.9 106.1,101.9 106.3,101.9 106.6,101.9 106.8,101.9 107.0,101.9 107.3,101.9 107.5,101.9 107.7,102.0 108.0,102.0 108.2,102.0 108.4,102.0 108.6,102.0 108.9,102.0 109.1,102.0 109.3,102.0 109.6,102.0 109.8,101.9 110.0,101.9 110.3,101.9 110.5,101.9 110.7,101.9 110.9,101.9 111.2,101.9 111.4,101.9 111.6,101.9 111.9,101.9 112.1,101.9 112.3,101.9 112.6,101.9 112.8,101.9 113.0,101.9 113.2,101.9 113.5,101.9 113.7,101.9 113.9,101.9 114.2,101.9 114.4,101.8 114.6,101.8 114.9,101.8 115.1,101.8 115.3,101.7 115.6,101.7 115.8,101.6 116.0,101.5 116.2,101.4 116.5,101.1 116.7,100.6 116.9,99.6 117.2,97.8 117.4,94.8 117.6,90.8 117.9,86.6 118.1,84.5 118.3,86.6 118.5,90.8 118.8,94.8 119.0,97.8 119.2,99.6 119.5,100.6 119.7,101.1 119.9,101.4 120.2,101.5 120.4,101.6 120.6,101.7 120.9,101.7 121.1,101.8 121.3,101.8 121.5,101.8 121.8,101.8 122.0,101.9 122.2,101.9 122.5,101.9 122.7,101.9 122.9,101.9 123.2,101.9 123.4,101.9 123.6,101.9 123.8,101.9 124.1,101.9 124.3,101.9 124.5,101.9 124.8,101.9 125.0,102.0 125.2,102.0 125.5,102.0 125.7,102.0 125.9,102.0 126.1,102.0 126.4,102.0 126.6,102.0 126.8,102.0 127.1,102.0 127.3,102.0 127.5,102.0 127.8,102.0 128.0,102.0 128.2,102.0 128.5,102.0 128.7,102.0 128.9,102.0 129.1,102.0 129.4,102.0 129.6,102.0 129.8,102.0 130.1,102.0 130.3,102.0 130.5,102.0 130.8,102.0 131.0,102.0 131.2,102.0 131.4,102.0 131.7,102.0 131.9,102.0 132.1,102.0 132.4,102.0 132.6,102.0 132.8,102.0 133.1,102.0 133.3,102.0 133.5,102.0 133.8,102.0 134.0,102.0 134.2,102.0 134.4,102.0 134.7,102.0 134.9,102.0 135.1,102.0 135.4,102.0 135.6,102.0 135.8,102.0 136.1,102.0 136.3,102.0 136.5,102.0 136.7,102.0 137.0,102.0 137.2,102.0 137.4,102.0 137.7,102.0 137.9,102.0 138.1,102.0 138.4,102.0 138.6,102.0 138.8,102.0 139.1,102.0 139.3,102.0 139.5,102.0 139.7,102.0 140.0,102.0 140.2,102.0 140.4,102.0 140.7,102.0 140.9,102.0 141.1,102.0 141.4,102.0 141.6,102.0 141.8,102.0 142.0,102.0 142.3,102.0 142.5,102.0 142.7,102.0 143.0,102.0 143.2,102.0 143.4,102.0 143.7,102.0 143.9,102.0 144.1,102.0 144.3,102.0 144.6,102.0 144.8,102.0 145.0,102.0 145.3,102.0 145.5,102.0 145.7,102.0 146.0,102.0 146.2,102.0 146.4,102.0 146.7,102.0 146.9,102.0 147.1,102.0 147.3,102.0 147.6,102.0 147.8,102.0 148.0,102.0 148.3,102.0 148.5,102.0 148.7,102.0 149.0,102.0 149.2,102.0 149.4,102.0 149.6,102.0 149.9,102.0 150.1,102.0 150.3,102.0 150.6,102.0 150.8,102.0 151.0,102.0 151.3,102.0 151.5,102.0 151.7,102.0 152.0,102.0 152.2,102.0 152.4,102.0 152.6,101.9 152.9,101.9 153.1,101.9 153.3,101.9 153.6,101.9 153.8,101.9 154.0,101.9 154.3,101.9 154.5,101.9 154.7,101.9 154.9,101.9 155.2,101.9 155.4,101.9 155.6,101.8 155.9,101.8 156.1,101.8 156.3,101.8 156.6,101.7 156.8,101.6 157.0,101.5 157.3,101.2 157.5,100.8 157.7,100.1 157.9,99.1 158.2,98.0 158.4,96.8 158.6,96.2 158.9,96.7 159.1,97.6 159.3,98.5 159.6,98.9 159.8,98.6 160.0,97.6 160.2,96.0 160.5,94.3 160.7,93.5 160.9,94.4 161.2,96.3 161.4,98.1 161.6,99.4 161.9,100.3 162.1,100.8 162.3,100.9 162.5,100.6 162.8,100.1 163.0,99.3 163.2,98.3 163.5,97.3 163.7,96.8 163.9,97.3 164.2,98.4 164.4,99.4 164.6,100.3 164.9,100.9 165.1,101.3 165.3,101.6 165.5,101.7 165.8,101.8 166.0,101.8 166.2,101.8 166.5,101.9 166.7,101.9 166.9,101.9 167.2,101.9 167.4,101.9 167.6,101.9 167.8,101.9 168.1,101.9 168.3,101.9 168.5,101.9 168.8,101.9 169.0,101.9 169.2,101.9 169.5,102.0 169.7,102.0 169.9,102.0 170.2,102.0 170.4,102.0 170.6,102.0 170.8,102.0 171.1,102.0 171.3,102.0 171.5,102.0 171.8,102.0 172.0,102.0 172.2,102.0 172.5,102.0 172.7,102.0 172.9,102.0 173.1,102.0 173.4,102.0 173.6,102.0 173.8,102.0 174.1,102.0 174.3,102.0 174.5,102.0 174.8,102.0 175.0,102.0 175.2,102.0 175.4,102.0 175.7,102.0 175.9,102.0 176.1,102.0 176.4,102.0 176.6,102.0 176.8,102.0 177.1,102.0 177.3,102.0 177.5,102.0 177.8,102.0 178.0,102.0 178.2,102.0 178.4,102.0 178.7,102.0 178.9,102.0 179.1,102.0 179.4,102.0 179.6,102.0 179.8,102.0 180.1,102.0 180.3,102.0 180.5,102.0 180.7,102.0 181.0,102.0 181.2,102.0 181.4,102.0 181.7,102.0 181.9,102.0 182.1,102.0 182.4,102.0 182.6,102.0 182.8,102.0 183.1,102.0 183.3,102.0 183.5,102.0 183.7,102.0 184.0,102.0 184.2,102.0 184.4,102.0 184.7,102.0 184.9,102.0 185.1,102.0 185.4,102.0 185.6,102.0 185.8,102.0 186.0,102.0 186.3,102.0 186.5,102.0 186.7,102.0 187.0,102.0 187.2,102.0 187.4,102.0 187.7,102.0 187.9,101.9 188.1,101.9 188.4,101.9 188.6,101.9 188.8,101.9 189.0,101.9 189.3,101.9 189.5,101.8 189.7,101.7 190.0,101.5 190.2,101.2 190.4,100.7 190.7,100.0 190.9,99.2 191.1,98.4 191.3,98.0 191.6,98.4 191.8,99.2 192.0,100.0 192.3,100.7 192.5,101.2 192.7,101.5 193.0,101.7 193.2,101.8 193.4,101.9 193.6,101.9 193.9,101.9 194.1,101.9 194.3,101.9 194.6,101.9 194.8,101.9 195.0,102.0 195.3,102.0 195.5,102.0 195.7,102.0 196.0,102.0 196.2,102.0 196.4,102.0 196.6,102.0 196.9,102.0 197.1,102.0 197.3,102.0 197.6,102.0 197.8,102.0 198.0,102.0 198.3,102.0 198.5,102.0 198.7,102.0 198.9,102.0 199.2,102.0 199.4,102.0 199.6,102.0 199.9,102.0 200.1,102.0" fill="none" stroke="#1f66dc" stroke-width="1.2" stroke-linejoin="round"/>
<rect x="15.8" y="38.9" width="184.29999999999998" height="158.1" fill="none" stroke="#3a3a3a" stroke-width="1.3"/>
<line x1="15.8" y1="197.0" x2="15.8" y2="198.8" stroke="#3a3a3a" stroke-width="0.8"/>
<line x1="27.3" y1="197.0" x2="27.3" y2="198.2" stroke="#3a3a3a" stroke-width="0.8"/>
<line x1="38.8" y1="197.0" x2="38.8" y2="198.8" stroke="#3a3a3a" stroke-width="0.8"/>
<line x1="50.4" y1="197.0" x2="50.4" y2="198.2" stroke="#3a3a3a" stroke-width="0.8"/>
<line x1="61.9" y1="197.0" x2="61.9" y2="198.8" stroke="#3a3a3a" stroke-width="0.8"/>
<line x1="73.4" y1="197.0" x2="73.4" y2="198.2" stroke="#3a3a3a" stroke-width="0.8"/>
<line x1="84.9" y1="197.0" x2="84.9" y2="198.8" stroke="#3a3a3a" stroke-width="0.8"/>
<line x1="96.4" y1="197.0" x2="96.4" y2="198.2" stroke="#3a3a3a" stroke-width="0.8"/>
<line x1="107.9" y1="197.0" x2="107.9" y2="198.8" stroke="#3a3a3a" stroke-width="0.8"/>
<line x1="119.5" y1="197.0" x2="119.5" y2="198.2" stroke="#3a3a3a" stroke-width="0.8"/>
<line x1="131.0" y1="197.0" x2="131.0" y2="198.8" stroke="#3a3a3a" stroke-width="0.8"/>
<line x1="142.5" y1="197.0" x2="142.5" y2="198.2" stroke="#3a3a3a" stroke-width="0.8"/>
<line x1="154.0" y1="197.0" x2="154.0" y2="198.8" stroke="#3a3a3a" stroke-width="0.8"/>
<line x1="165.5" y1="197.0" x2="165.5" y2="198.2" stroke="#3a3a3a" stroke-width="0.8"/>
<line x1="177.1" y1="197.0" x2="177.1" y2="198.8" stroke="#3a3a3a" stroke-width="0.8"/>
<line x1="188.6" y1="197.0" x2="188.6" y2="198.2" stroke="#3a3a3a" stroke-width="0.8"/>
<line x1="200.1" y1="197.0" x2="200.1" y2="198.8" stroke="#3a3a3a" stroke-width="0.8"/>
<g class="b">
<text x="15.8" y="206.6" font-size="6.7" text-anchor="middle">20</text>
<text x="38.8" y="206.6" font-size="6.7" text-anchor="middle">25</text>
<text x="61.9" y="206.6" font-size="6.7" text-anchor="middle">30</text>
<text x="84.9" y="206.6" font-size="6.7" text-anchor="middle">35</text>
<text x="107.9" y="206.6" font-size="6.7" text-anchor="middle">40</text>
<text x="131.0" y="206.6" font-size="6.7" text-anchor="middle">45</text>
<text x="154.0" y="206.6" font-size="6.7" text-anchor="middle">50</text>
<text x="177.1" y="206.6" font-size="6.7" text-anchor="middle">55</text>
<text x="200.1" y="206.6" font-size="6.7" text-anchor="middle">60</text>
</g>
<text x="109.4" y="214.8" font-size="8.6" text-anchor="middle">2θ (degree)</text>
<text transform="translate(10.3,117.8) rotate(-90)" font-size="8.5" text-anchor="middle">intensity (a.u.)</text>
<g class="b">
<text transform="translate(17.6,49.1) scale(1.04,1)" font-size="7.35">Mn<tspan font-size="5.6" dy="1.6">55</tspan><tspan dy="-1.6">Bi</tspan><tspan font-size="5.6" dy="1.6">45</tspan><tspan dy="-1.6"> ribbon</tspan></text>
<text x="81.3" y="49.2" font-size="7.3" textLength="36.2" lengthAdjust="spacingAndGlyphs">300 °C+3 h</text>
<path d="M131.2,44.599999999999994L133.00,46.8L131.2,49.0L129.40,46.8Z" fill="#000"/>
<text class="i" x="137" y="49.2" font-size="7.3" textLength="18.8" lengthAdjust="spacingAndGlyphs">MnBi</text>
<circle cx="162.5" cy="46.9" r="1.7" fill="#000"/>
<text class="i" x="166.2" y="49.2" font-size="7.3" textLength="7.6" lengthAdjust="spacingAndGlyphs">Bi</text>
<rect x="178.9" y="45.3" width="3.2" height="3.2" fill="#000"/>
<text class="i" x="184.2" y="49.2" font-size="7.3" textLength="10.8" lengthAdjust="spacingAndGlyphs">Mn</text>
<path d="M53.7,52.8L55.50,55L53.7,57.2L51.90,55Z" fill="#000"/>
<text x="58.2" y="57.9" font-size="6.0" textLength="14.2" lengthAdjust="spacingAndGlyphs">(101)</text>
<text x="37.5" y="91.6" font-size="6.0" textLength="13.8" lengthAdjust="spacingAndGlyphs">(012)</text>
<text x="91.2" y="79.1" font-size="6.0" textLength="13.8" lengthAdjust="spacingAndGlyphs">(102)</text>
<path d="M99.6,82.0L101.40,84.2L99.6,86.4L97.80,84.2Z" fill="#000"/>
<text x="116.2" y="77.2" font-size="6.0" textLength="13.8" lengthAdjust="spacingAndGlyphs">(110)</text>
<path d="M118.2,79.1L120.00,81.3L118.2,83.5L116.40,81.3Z" fill="#000"/>
<path d="M34.3,94.6L36.10,96.8L34.3,99.0L32.50,96.8Z" fill="#000"/>
<circle cx="49.3" cy="97.5" r="1.7" fill="#000"/>
<path d="M58.8,93.2L60.60,95.4L58.8,97.60000000000001L57.00,95.4Z" fill="#000"/>
<path d="M158.7,89.1L160.50,91.3L158.7,93.5L156.90,91.3Z" fill="#000"/>
<circle cx="161.3" cy="88.8" r="1.7" fill="#000"/>
<path d="M164.5,89.8L166.30,92L164.5,94.2L162.70,92Z" fill="#000"/>
<path d="M191.5,92.0L193.30,94.2L191.5,96.4L189.70,94.2Z" fill="#000"/>
<rect x="120.60000000000001" y="186.6" width="3.2" height="3.2" fill="#000"/>
<text x="124.5" y="189.8" font-size="6.0" textLength="13.4" lengthAdjust="spacingAndGlyphs">(411)</text>
<text x="173.8" y="85.8" font-size="7.5" textLength="19.6" lengthAdjust="spacingAndGlyphs">15 m/s</text>
<text x="174" y="129.8" font-size="7.5" textLength="19.4" lengthAdjust="spacingAndGlyphs">10 m/s</text>
<text x="174" y="172.3" font-size="7.3" textLength="16.4" lengthAdjust="spacingAndGlyphs">5 m/s</text>
</g>
<g class="c">
<clipPath id="c2"><rect x="234.9" y="37.3" width="211.6" height="156.8"/></clipPath>
<line x1="234.9" y1="115.5" x2="446.5" y2="115.5" stroke="#000" stroke-width="1.3"/>
<line x1="340.6" y1="37.3" x2="340.6" y2="194.1" stroke="#000" stroke-width="1.3"/>
<g clip-path="url(#c2)">
<polyline points="446.0,50.7 445.7,50.7 445.2,50.8 444.8,50.8 444.2,50.8 443.6,50.9 443.0,50.9 442.3,51.0 441.6,51.0 440.8,51.1 440.0,51.1 439.2,51.2 438.3,51.2 437.3,51.3 436.3,51.3 435.2,51.4 434.2,51.4 433.1,51.5 432.1,51.6 431.0,51.6 430.0,51.7 429.0,51.8 428.0,51.8 427.0,51.9 426.0,52.0 425.0,52.0 424.0,52.1 423.0,52.2 422.0,52.2 421.0,52.3 420.0,52.4 419.0,52.5 418.0,52.6 416.9,52.7 415.9,52.7 414.9,52.8 413.9,52.9 412.9,53.0 411.9,53.1 410.9,53.2 410.0,53.3 409.1,53.4 408.3,53.5 407.5,53.6 406.8,53.7 406.0,53.8 405.2,53.9 404.5,54.0 403.7,54.1 402.9,54.2 402.0,54.3 401.1,54.4 400.2,54.6 399.2,54.7 398.2,54.8 397.2,55.0 396.2,55.1 395.2,55.3 394.2,55.4 393.1,55.6 392.0,55.8 390.9,56.0 389.7,56.2 388.5,56.4 387.2,56.6 386.0,56.9 384.8,57.1 383.5,57.3 382.3,57.6 381.1,57.8 380.0,58.0 378.9,58.2 377.9,58.4 376.9,58.6 375.9,58.8 374.9,59.0 373.9,59.2 372.9,59.4 372.0,59.6 371.0,59.8 370.0,60.0 369.0,60.2 368.0,60.4 366.9,60.6 365.9,60.7 364.9,60.9 363.9,61.1 362.9,61.3 361.9,61.4 360.9,61.6 360.0,61.8 359.1,62.0 358.2,62.2 357.3,62.4 356.5,62.6 355.6,62.8 354.8,63.0 354.0,63.2 353.3,63.4 352.6,63.5 352.0,63.7 351.4,63.8 350.9,64.0 350.5,64.1 350.1,64.2 349.7,64.3 349.4,64.4 349.0,64.5 348.7,64.6 348.4,64.8 348.0,64.9 347.6,65.1 347.3,65.2 346.9,65.4 346.6,65.5 346.2,65.7 345.9,65.9 345.5,66.1 345.2,66.3 344.9,66.5 344.6,66.7 344.3,66.9 344.0,67.1 343.8,67.4 343.5,67.6 343.3,67.9 343.0,68.1 342.8,68.4 342.5,68.6 342.3,68.9 342.1,69.2 341.9,69.5 341.7,69.8 341.5,70.1 341.3,70.4 341.1,70.7 340.9,71.0 340.7,71.3 340.5,71.7 340.4,72.0 340.2,72.4 340.0,72.8 339.9,73.2 339.7,73.6 339.6,74.0 339.4,74.5 339.3,74.9 339.2,75.4 339.0,75.9 338.9,76.3 338.8,76.8 338.7,77.3 338.6,77.7 338.5,78.2 338.4,78.7 338.3,79.2 338.2,79.6 338.1,80.2 338.0,80.7 337.9,81.2 337.8,81.8 337.7,82.4 337.6,83.0 337.5,83.6 337.3,84.3 337.2,84.9 337.1,85.6 337.0,86.3 336.9,87.0 336.7,87.7 336.6,88.5 336.5,89.3 336.3,90.1 336.2,91.0 336.1,91.8 335.9,92.7 335.8,93.6 335.6,94.5 335.5,95.4 335.3,96.3 335.2,97.2 335.1,98.1 334.9,99.0 334.7,100.0 334.6,100.9 334.4,101.8 334.3,102.8 334.1,103.7 334.0,104.5 333.8,105.3 333.7,106.0 333.6,106.6 333.5,107.2 333.4,107.7 333.3,108.2 333.2,108.7 333.1,109.1 333.0,109.5 333.0,109.9 332.9,110.4 332.8,110.8 332.7,111.3 332.7,111.7 332.6,112.1 332.6,112.6 332.5,113.0 332.5,113.4 332.4,113.9 332.4,114.3 332.3,114.8 332.2,115.3 332.1,115.8 332.0,116.3 331.8,116.8 331.7,117.4 331.5,117.9 331.3,118.5 331.2,119.0 331.0,119.6 330.8,120.1 330.6,120.7 330.4,121.3 330.2,121.9 330.0,122.5 329.8,123.1 329.6,123.7 329.3,124.4 329.1,125.0 328.9,125.6 328.6,126.1 328.4,126.7 328.2,127.2 327.9,127.7 327.7,128.3 327.5,128.7 327.2,129.2 327.0,129.7 326.7,130.2 326.5,130.6 326.2,131.1 326.0,131.5 325.8,131.9 325.5,132.3 325.3,132.7 325.0,133.1 324.8,133.5 324.6,133.9 324.3,134.3 324.1,134.7 323.8,135.1 323.6,135.5 323.4,135.9 323.2,136.3 323.0,136.7 322.8,137.1 322.5,137.5 322.3,137.9 322.1,138.4 321.8,138.9 321.4,139.4 321.0,140.0 320.5,140.7 320.0,141.4 319.4,142.1 318.8,142.9 318.1,143.8 317.4,144.6 316.8,145.5 316.1,146.3 315.4,147.2 314.7,148.0 314.0,148.8 313.4,149.6 312.7,150.4 312.0,151.2 311.3,152.0 310.6,152.8 309.9,153.6 309.1,154.4 308.4,155.2 307.7,156.0 307.0,156.8 306.2,157.6 305.4,158.5 304.6,159.3 303.9,160.1 303.1,160.9 302.3,161.7 301.5,162.5 300.8,163.3 300.1,164.0 299.4,164.7 298.8,165.4 298.1,166.0 297.5,166.6 296.9,167.2 296.2,167.8 295.6,168.4 295.0,168.9 294.4,169.5 293.8,170.0 293.2,170.5 292.5,171.0 291.9,171.5 291.3,171.9 290.6,172.4 290.0,172.8 289.4,173.2 288.8,173.6 288.2,173.9 287.7,174.2 287.2,174.5 286.7,174.7 286.3,174.9 285.8,175.1 285.4,175.2 285.0,175.4 284.6,175.5 284.2,175.6 283.7,175.7 283.3,175.8 282.9,175.9 282.4,176.0 282.0,176.1 281.6,176.1 281.2,176.2 280.7,176.2 280.2,176.3 279.7,176.3 279.1,176.4 278.5,176.4 277.8,176.4 277.1,176.5 276.4,176.5 275.6,176.6 274.8,176.6 274.0,176.6 273.1,176.7 272.1,176.7 271.1,176.7 270.0,176.8 268.8,176.9 267.5,176.9 266.1,177.0 264.6,177.0 263.1,177.1 261.6,177.2 260.1,177.3 258.6,177.3 257.3,177.4 256.0,177.5 254.8,177.6 253.8,177.7 252.7,177.8 251.8,177.9 250.8,178.0 249.9,178.1 248.9,178.2 248.0,178.3 247.0,178.4 246.0,178.5 244.9,178.6 243.7,178.7 242.4,178.8 241.1,178.8 239.9,178.9 238.7,179.0 237.5,179.1 236.5,179.1 235.7,179.2 235.0,179.2" fill="none" stroke="#3c3c3c" stroke-width="2.8" stroke-linejoin="round" stroke-linecap="round"/>
<path d="M444.2,48.9h3.6v3.6h-3.6zM440.8,49.1h3.6v3.6h-3.6zM437.4,49.3h3.6v3.6h-3.6zM434.0,49.5h3.6v3.6h-3.6zM430.6,49.7h3.6v3.6h-3.6zM427.2,50.0h3.6v3.6h-3.6zM423.8,50.2h3.6v3.6h-3.6zM420.4,50.4h3.6v3.6h-3.6zM417.1,50.7h3.6v3.6h-3.6zM413.7,51.0h3.6v3.6h-3.6zM410.3,51.3h3.6v3.6h-3.6zM406.9,51.6h3.6v3.6h-3.6zM403.5,52.0h3.6v3.6h-3.6zM400.2,52.5h3.6v3.6h-3.6zM396.8,53.0h3.6v3.6h-3.6zM393.4,53.5h3.6v3.6h-3.6zM390.1,54.0h3.6v3.6h-3.6zM386.7,54.6h3.6v3.6h-3.6zM383.4,55.2h3.6v3.6h-3.6zM380.0,55.8h3.6v3.6h-3.6zM376.7,56.5h3.6v3.6h-3.6zM373.4,57.2h3.6v3.6h-3.6zM370.0,57.8h3.6v3.6h-3.6zM366.7,58.5h3.6v3.6h-3.6zM363.3,59.1h3.6v3.6h-3.6zM360.0,59.7h3.6v3.6h-3.6zM356.7,60.3h3.6v3.6h-3.6zM353.4,61.1h3.6v3.6h-3.6zM350.1,61.9h3.6v3.6h-3.6zM346.8,62.9h3.6v3.6h-3.6zM343.7,64.3h3.6v3.6h-3.6zM341.1,66.4h3.6v3.6h-3.6zM339.1,69.2h3.6v3.6h-3.6zM337.8,72.3h3.6v3.6h-3.6zM336.9,75.6h3.6v3.6h-3.6zM336.2,78.9h3.6v3.6h-3.6zM335.6,82.3h3.6v3.6h-3.6zM335.0,85.6h3.6v3.6h-3.6zM334.4,89.0h3.6v3.6h-3.6zM333.9,92.3h3.6v3.6h-3.6zM333.4,95.7h3.6v3.6h-3.6zM332.8,99.0h3.6v3.6h-3.6zM332.2,102.4h3.6v3.6h-3.6zM331.6,105.7h3.6v3.6h-3.6zM331.0,109.1h3.6v3.6h-3.6zM330.6,112.5h3.6v3.6h-3.6zM329.8,115.8h3.6v3.6h-3.6zM328.8,119.0h3.6v3.6h-3.6zM327.7,122.2h3.6v3.6h-3.6zM326.4,125.4h3.6v3.6h-3.6zM324.9,128.4h3.6v3.6h-3.6zM323.2,131.4h3.6v3.6h-3.6zM321.5,134.3h3.6v3.6h-3.6zM319.8,137.3h3.6v3.6h-3.6zM317.8,140.0h3.6v3.6h-3.6zM315.8,142.7h3.6v3.6h-3.6zM313.6,145.3h3.6v3.6h-3.6zM311.4,148.0h3.6v3.6h-3.6zM309.2,150.5h3.6v3.6h-3.6zM306.9,153.1h3.6v3.6h-3.6zM304.6,155.6h3.6v3.6h-3.6zM302.3,158.0h3.6v3.6h-3.6zM300.0,160.5h3.6v3.6h-3.6zM297.6,162.9h3.6v3.6h-3.6zM295.2,165.3h3.6v3.6h-3.6zM292.7,167.6h3.6v3.6h-3.6zM290.0,169.7h3.6v3.6h-3.6zM287.2,171.6h3.6v3.6h-3.6zM284.2,173.2h3.6v3.6h-3.6zM280.9,174.1h3.6v3.6h-3.6zM277.5,174.5h3.6v3.6h-3.6zM274.1,174.7h3.6v3.6h-3.6zM270.7,174.9h3.6v3.6h-3.6zM267.4,175.0h3.6v3.6h-3.6zM264.0,175.2h3.6v3.6h-3.6zM260.6,175.3h3.6v3.6h-3.6zM257.2,175.5h3.6v3.6h-3.6zM253.8,175.7h3.6v3.6h-3.6zM250.4,176.0h3.6v3.6h-3.6zM247.0,176.4h3.6v3.6h-3.6zM243.6,176.7h3.6v3.6h-3.6zM240.2,177.0h3.6v3.6h-3.6zM236.8,177.2h3.6v3.6h-3.6zM233.4,177.4h3.6v3.6h-3.6z" fill="#3c3c3c"/>
<polyline points="235.0,179.2 235.7,179.2 236.5,179.1 237.5,179.1 238.7,179.0 239.9,178.9 241.1,178.8 242.4,178.8 243.7,178.7 244.9,178.6 246.0,178.5 247.0,178.4 248.0,178.3 248.9,178.2 249.9,178.1 250.8,178.0 251.8,177.9 252.7,177.8 253.8,177.7 254.8,177.6 256.0,177.5 257.2,177.4 258.6,177.3 259.9,177.2 261.4,177.1 262.8,177.0 264.3,176.9 265.7,176.7 267.2,176.6 268.6,176.5 270.0,176.4 271.3,176.3 272.6,176.2 273.8,176.1 275.1,176.0 276.3,175.9 277.6,175.7 278.8,175.6 280.2,175.5 281.5,175.4 283.0,175.2 284.6,175.0 286.2,174.9 288.0,174.7 289.8,174.5 291.6,174.3 293.4,174.1 295.2,173.9 296.9,173.7 298.5,173.4 300.0,173.2 301.3,173.0 302.6,172.7 303.8,172.4 304.9,172.2 305.9,171.9 307.0,171.6 308.0,171.3 309.0,171.1 310.0,170.8 311.0,170.6 312.0,170.4 313.1,170.2 314.1,170.0 315.2,169.8 316.2,169.6 317.2,169.4 318.2,169.2 319.1,169.0 320.1,168.9 321.0,168.7 321.9,168.5 322.8,168.4 323.7,168.3 324.5,168.1 325.4,168.0 326.2,167.9 326.9,167.7 327.7,167.6 328.4,167.5 329.0,167.4 329.6,167.3 330.1,167.2 330.6,167.1 331.0,167.1 331.4,167.0 331.8,166.9 332.1,166.9 332.5,166.8 332.8,166.7 333.2,166.6 333.6,166.5 334.0,166.4 334.3,166.2 334.7,166.1 335.1,165.9 335.4,165.8 335.7,165.6 336.1,165.4 336.4,165.3 336.7,165.1 337.0,164.9 337.3,164.7 337.5,164.5 337.8,164.4 338.1,164.2 338.3,163.9 338.5,163.7 338.8,163.5 339.0,163.3 339.2,163.0 339.4,162.7 339.6,162.5 339.8,162.2 340.0,161.9 340.2,161.6 340.4,161.3 340.5,160.9 340.7,160.6 340.8,160.3 341.0,159.9 341.1,159.5 341.3,159.2 341.4,158.8 341.5,158.4 341.7,158.0 341.8,157.6 341.9,157.2 342.0,156.7 342.1,156.3 342.2,155.8 342.3,155.3 342.4,154.8 342.5,154.3 342.5,153.8 342.6,153.2 342.7,152.7 342.7,152.1 342.8,151.5 342.9,150.9 343.0,150.2 343.1,149.5 343.2,148.8 343.3,148.1 343.4,147.3 343.6,146.5 343.7,145.8 343.8,144.9 343.9,144.1 344.1,143.3 344.2,142.5 344.3,141.7 344.5,140.8 344.6,140.0 344.8,139.1 344.9,138.2 345.0,137.4 345.2,136.5 345.3,135.6 345.5,134.7 345.6,133.8 345.7,132.9 345.9,131.9 346.0,131.0 346.1,130.0 346.3,129.0 346.4,128.0 346.5,127.1 346.7,126.2 346.8,125.4 346.9,124.7 347.0,124.1 347.1,123.5 347.3,123.0 347.4,122.5 347.5,122.1 347.6,121.7 347.7,121.3 347.8,120.9 347.9,120.5 348.0,120.0 348.1,119.5 348.2,119.1 348.3,118.6 348.3,118.1 348.4,117.7 348.5,117.2 348.6,116.8 348.7,116.3 348.8,115.8 348.9,115.3 349.0,114.8 349.2,114.3 349.3,113.8 349.4,113.3 349.6,112.7 349.7,112.2 349.9,111.7 350.1,111.1 350.2,110.6 350.4,110.0 350.6,109.4 350.8,108.8 351.0,108.2 351.2,107.6 351.4,107.0 351.6,106.3 351.8,105.7 352.0,105.1 352.2,104.5 352.4,104.0 352.6,103.5 352.8,103.0 353.0,102.5 353.3,102.1 353.5,101.6 353.7,101.2 353.9,100.8 354.1,100.3 354.4,99.9 354.6,99.5 354.8,99.1 355.0,98.7 355.2,98.4 355.5,98.0 355.7,97.7 355.9,97.3 356.1,96.9 356.4,96.5 356.7,96.0 357.0,95.5 357.3,94.9 357.7,94.3 358.1,93.6 358.5,92.9 358.9,92.2 359.4,91.4 359.8,90.7 360.3,89.9 360.7,89.2 361.2,88.5 361.7,87.8 362.1,87.2 362.6,86.5 363.1,85.8 363.5,85.2 364.0,84.6 364.5,83.9 365.0,83.3 365.5,82.6 366.0,82.0 366.5,81.4 367.0,80.8 367.5,80.2 367.9,79.6 368.4,79.0 368.9,78.4 369.4,77.8 369.9,77.2 370.5,76.5 371.0,75.8 371.6,75.0 372.1,74.2 372.7,73.4 373.3,72.5 373.9,71.7 374.5,70.8 375.1,69.9 375.8,69.1 376.4,68.3 377.0,67.5 377.6,66.8 378.3,66.1 378.9,65.4 379.6,64.7 380.2,64.0 380.9,63.4 381.6,62.8 382.2,62.2 382.9,61.6 383.5,61.1 384.1,60.6 384.7,60.2 385.4,59.8 386.0,59.4 386.6,59.0 387.2,58.7 387.8,58.4 388.3,58.1 388.9,57.8 389.5,57.5 390.1,57.2 390.6,57.0 391.2,56.8 391.7,56.6 392.2,56.4 392.8,56.2 393.3,56.1 393.9,55.9 394.4,55.7 395.0,55.6 395.6,55.5 396.1,55.3 396.7,55.2 397.2,55.1 397.8,55.0 398.4,54.9 399.0,54.8 399.6,54.7 400.3,54.6 401.0,54.5 401.8,54.4 402.6,54.3 403.4,54.1 404.3,54.0 405.2,53.9 406.2,53.8 407.1,53.6 408.1,53.5 409.0,53.4 410.0,53.3 411.0,53.2 411.9,53.1 412.9,53.0 413.9,52.9 414.9,52.8 416.0,52.7 417.0,52.6 418.0,52.6 419.0,52.5 420.0,52.4 421.0,52.3 422.0,52.2 423.0,52.2 424.0,52.1 425.0,52.0 426.0,52.0 427.0,51.9 428.0,51.8 429.0,51.8 430.0,51.7 431.0,51.6 432.1,51.6 433.1,51.5 434.2,51.4 435.2,51.4 436.3,51.3 437.3,51.3 438.3,51.2 439.2,51.2 440.0,51.1 440.8,51.1 441.6,51.0 442.3,51.0 443.0,50.9 443.6,50.9 444.2,50.8 444.8,50.8 445.2,50.8 445.7,50.7 446.0,50.7" fill="none" stroke="#3c3c3c" stroke-width="2.8" stroke-linejoin="round" stroke-linecap="round"/>
<path d="M233.2,177.4h3.6v3.6h-3.6zM236.6,177.2h3.6v3.6h-3.6zM240.0,177.0h3.6v3.6h-3.6zM243.4,176.8h3.6v3.6h-3.6zM246.8,176.5h3.6v3.6h-3.6zM250.1,176.1h3.6v3.6h-3.6zM253.5,175.8h3.6v3.6h-3.6zM256.9,175.5h3.6v3.6h-3.6zM260.3,175.2h3.6v3.6h-3.6zM263.7,175.0h3.6v3.6h-3.6zM267.1,174.7h3.6v3.6h-3.6zM270.5,174.4h3.6v3.6h-3.6zM273.9,174.1h3.6v3.6h-3.6zM277.2,173.8h3.6v3.6h-3.6zM280.6,173.5h3.6v3.6h-3.6zM284.0,173.1h3.6v3.6h-3.6zM287.4,172.8h3.6v3.6h-3.6zM290.8,172.4h3.6v3.6h-3.6zM294.2,172.0h3.6v3.6h-3.6zM297.5,171.5h3.6v3.6h-3.6zM300.9,170.9h3.6v3.6h-3.6zM304.2,170.1h3.6v3.6h-3.6zM307.4,169.2h3.6v3.6h-3.6zM310.8,168.5h3.6v3.6h-3.6zM314.1,167.8h3.6v3.6h-3.6zM317.4,167.2h3.6v3.6h-3.6zM320.8,166.6h3.6v3.6h-3.6zM324.2,166.1h3.6v3.6h-3.6zM327.5,165.5h3.6v3.6h-3.6zM330.9,164.9h3.6v3.6h-3.6zM334.0,163.8h3.6v3.6h-3.6zM336.8,161.8h3.6v3.6h-3.6zM338.8,159.1h3.6v3.6h-3.6zM340.0,155.9h3.6v3.6h-3.6zM340.6,152.6h3.6v3.6h-3.6zM341.1,149.2h3.6v3.6h-3.6zM341.6,145.8h3.6v3.6h-3.6zM342.1,142.5h3.6v3.6h-3.6zM342.7,139.1h3.6v3.6h-3.6zM343.2,135.8h3.6v3.6h-3.6zM343.7,132.4h3.6v3.6h-3.6zM344.2,129.0h3.6v3.6h-3.6zM344.7,125.7h3.6v3.6h-3.6zM345.2,122.3h3.6v3.6h-3.6zM346.0,119.0h3.6v3.6h-3.6zM346.7,115.7h3.6v3.6h-3.6zM347.4,112.3h3.6v3.6h-3.6zM348.3,109.1h3.6v3.6h-3.6zM349.3,105.8h3.6v3.6h-3.6zM350.4,102.6h3.6v3.6h-3.6zM351.8,99.5h3.6v3.6h-3.6zM353.5,96.5h3.6v3.6h-3.6zM355.2,93.6h3.6v3.6h-3.6zM357.0,90.7h3.6v3.6h-3.6zM358.7,87.8h3.6v3.6h-3.6zM360.6,85.0h3.6v3.6h-3.6zM362.6,82.2h3.6v3.6h-3.6zM364.7,79.5h3.6v3.6h-3.6zM366.9,76.9h3.6v3.6h-3.6zM369.0,74.3h3.6v3.6h-3.6zM371.0,71.5h3.6v3.6h-3.6zM372.9,68.7h3.6v3.6h-3.6zM375.0,66.0h3.6v3.6h-3.6zM377.2,63.5h3.6v3.6h-3.6zM379.6,61.1h3.6v3.6h-3.6zM382.2,58.9h3.6v3.6h-3.6zM385.1,57.0h3.6v3.6h-3.6zM388.1,55.5h3.6v3.6h-3.6zM391.3,54.3h3.6v3.6h-3.6zM394.6,53.5h3.6v3.6h-3.6zM398.0,52.9h3.6v3.6h-3.6zM401.3,52.4h3.6v3.6h-3.6zM404.7,51.9h3.6v3.6h-3.6zM408.1,51.5h3.6v3.6h-3.6zM411.4,51.2h3.6v3.6h-3.6zM414.8,50.9h3.6v3.6h-3.6zM418.2,50.6h3.6v3.6h-3.6zM421.6,50.3h3.6v3.6h-3.6zM425.0,50.1h3.6v3.6h-3.6zM428.4,49.9h3.6v3.6h-3.6zM431.8,49.7h3.6v3.6h-3.6zM435.2,49.5h3.6v3.6h-3.6zM438.6,49.3h3.6v3.6h-3.6zM442.0,49.1h3.6v3.6h-3.6z" fill="#3c3c3c"/>
<polyline points="446.0,49.4 445.7,49.4 445.2,49.4 444.8,49.5 444.2,49.5 443.6,49.6 443.0,49.6 442.3,49.6 441.6,49.7 440.8,49.7 440.0,49.8 439.2,49.9 438.3,49.9 437.3,50.0 436.3,50.1 435.2,50.1 434.2,50.2 433.1,50.3 432.1,50.3 431.0,50.4 430.0,50.5 429.0,50.6 428.0,50.6 427.0,50.7 426.0,50.8 425.0,50.9 424.0,51.0 423.0,51.0 422.0,51.1 421.0,51.2 420.0,51.3 419.0,51.4 418.0,51.5 416.9,51.6 415.9,51.7 414.9,51.8 413.9,52.0 412.9,52.1 411.9,52.2 410.9,52.3 410.0,52.4 409.1,52.5 408.3,52.6 407.5,52.7 406.8,52.8 406.0,52.9 405.2,53.0 404.5,53.1 403.7,53.2 402.9,53.3 402.0,53.4 401.1,53.5 400.2,53.7 399.2,53.8 398.2,54.0 397.2,54.2 396.2,54.3 395.2,54.5 394.2,54.7 393.1,54.9 392.0,55.1 390.9,55.3 389.7,55.5 388.5,55.8 387.2,56.0 386.0,56.3 384.8,56.5 383.5,56.8 382.3,57.0 381.1,57.3 380.0,57.5 378.9,57.7 377.9,57.9 376.9,58.2 375.9,58.4 374.9,58.6 373.9,58.8 372.9,59.0 372.0,59.2 371.0,59.4 370.0,59.6 369.0,59.8 368.0,60.0 366.9,60.2 365.9,60.4 364.9,60.6 363.9,60.8 362.9,60.9 361.9,61.1 360.9,61.3 360.0,61.5 359.1,61.7 358.2,61.9 357.3,62.1 356.5,62.3 355.6,62.4 354.8,62.6 354.0,62.8 353.3,63.0 352.6,63.1 352.0,63.3 351.4,63.4 350.9,63.6 350.5,63.7 350.1,63.8 349.7,63.9 349.4,64.0 349.0,64.1 348.7,64.2 348.4,64.4 348.0,64.5 347.6,64.7 347.3,64.8 346.9,65.0 346.6,65.1 346.2,65.3 345.9,65.5 345.5,65.7 345.2,65.9 344.9,66.1 344.6,66.3 344.3,66.5 344.0,66.8 343.8,67.0 343.5,67.3 343.3,67.5 343.0,67.8 342.8,68.1 342.5,68.3 342.3,68.6 342.1,68.9 341.9,69.2 341.7,69.5 341.5,69.8 341.3,70.1 341.1,70.4 340.9,70.7 340.7,71.0 340.5,71.4 340.4,71.7 340.2,72.1 340.0,72.5 339.9,72.9 339.7,73.3 339.6,73.8 339.4,74.2 339.3,74.7 339.2,75.2 339.0,75.6 338.9,76.1 338.8,76.6 338.7,77.1 338.6,77.6 338.5,78.0 338.4,78.5 338.4,79.0 338.3,79.5 338.2,80.0 338.2,80.6 338.1,81.1 338.0,81.7 337.9,82.3 337.8,82.9 337.7,83.5 337.6,84.2 337.5,84.8 337.4,85.5 337.3,86.2 337.2,86.9 337.1,87.6 337.0,88.4 336.9,89.2 336.8,90.0 336.7,90.9 336.5,91.8 336.4,92.7 336.3,93.6 336.2,94.5 336.0,95.4 335.9,96.3 335.8,97.2 335.6,98.1 335.5,99.0 335.3,100.0 335.2,100.9 335.1,101.9 334.9,102.8 334.8,103.7 334.6,104.5 334.5,105.3 334.4,106.0 334.3,106.6 334.2,107.2 334.1,107.7 334.0,108.2 333.9,108.7 333.8,109.1 333.7,109.5 333.6,109.9 333.6,110.4 333.5,110.8 333.4,111.3 333.4,111.7 333.3,112.1 333.3,112.6 333.2,113.0 333.2,113.4 333.1,113.9 333.1,114.3 333.0,114.8 332.9,115.3 332.8,115.8 332.7,116.3 332.5,116.8 332.4,117.4 332.2,117.9 332.0,118.5 331.9,119.0 331.7,119.6 331.5,120.1 331.3,120.7 331.1,121.3 330.9,121.9 330.7,122.5 330.5,123.1 330.3,123.7 330.0,124.4 329.8,125.0 329.6,125.6 329.3,126.1 329.1,126.7 328.9,127.2 328.6,127.7 328.4,128.3 328.2,128.7 327.9,129.2 327.7,129.7 327.4,130.2 327.2,130.6 326.9,131.1 326.7,131.5 326.5,131.9 326.2,132.3 326.0,132.7 325.7,133.1 325.5,133.5 325.3,133.9 325.0,134.3 324.8,134.7 324.5,135.1 324.3,135.5 324.1,135.9 323.9,136.3 323.7,136.7 323.5,137.1 323.2,137.5 323.0,137.9 322.8,138.4 322.5,138.9 322.1,139.4 321.7,140.0 321.2,140.7 320.7,141.4 320.1,142.1 319.5,142.9 318.8,143.8 318.1,144.6 317.5,145.5 316.8,146.3 316.1,147.2 315.4,148.0 314.7,148.8 314.1,149.6 313.4,150.4 312.7,151.2 312.0,152.0 311.3,152.8 310.6,153.6 309.8,154.4 309.1,155.2 308.4,156.0 307.7,156.8 306.9,157.6 306.1,158.5 305.3,159.3 304.6,160.1 303.8,160.9 303.0,161.7 302.2,162.5 301.5,163.3 300.8,164.0 300.1,164.7 299.4,165.4 298.8,166.0 298.2,166.6 297.5,167.2 296.9,167.8 296.3,168.4 295.7,168.9 295.1,169.5 294.5,170.0 293.9,170.5 293.2,171.0 292.5,171.5 291.9,172.0 291.2,172.5 290.5,172.9 289.9,173.4 289.2,173.8 288.6,174.1 288.1,174.5 287.5,174.8 287.0,175.1 286.5,175.4 286.0,175.6 285.5,175.9 285.1,176.1 284.6,176.3 284.2,176.4 283.7,176.6 283.3,176.8 282.9,177.0 282.4,177.1 282.0,177.3 281.6,177.4 281.2,177.5 280.7,177.6 280.2,177.7 279.7,177.8 279.1,177.9 278.5,178.0 277.8,178.1 277.1,178.2 276.4,178.3 275.6,178.4 274.8,178.4 274.0,178.5 273.1,178.6 272.1,178.7 271.1,178.8 270.0,178.9 268.8,179.0 267.5,179.1 266.1,179.2 264.6,179.4 263.1,179.5 261.6,179.6 260.1,179.7 258.6,179.9 257.3,180.0 256.0,180.1 254.8,180.2 253.8,180.3 252.7,180.4 251.8,180.5 250.8,180.6 249.9,180.7 248.9,180.8 248.0,180.9 247.0,181.0 246.0,181.1 244.9,181.2 243.7,181.3 242.4,181.4 241.1,181.4 239.9,181.5 238.7,181.6 237.5,181.7 236.5,181.7 235.7,181.8 235.0,181.8" fill="none" stroke="#f03a3a" stroke-width="2.8" stroke-linejoin="round" stroke-linecap="round"/>
<path d="M444.1,49.4a1.9,1.9 0 1,0 3.8,0a1.9,1.9 0 1,0 -3.8,0zM440.7,49.6a1.9,1.9 0 1,0 3.8,0a1.9,1.9 0 1,0 -3.8,0zM437.3,49.9a1.9,1.9 0 1,0 3.8,0a1.9,1.9 0 1,0 -3.8,0zM433.9,50.1a1.9,1.9 0 1,0 3.8,0a1.9,1.9 0 1,0 -3.8,0zM430.5,50.3a1.9,1.9 0 1,0 3.8,0a1.9,1.9 0 1,0 -3.8,0zM427.1,50.6a1.9,1.9 0 1,0 3.8,0a1.9,1.9 0 1,0 -3.8,0zM423.7,50.8a1.9,1.9 0 1,0 3.8,0a1.9,1.9 0 1,0 -3.8,0zM420.4,51.1a1.9,1.9 0 1,0 3.8,0a1.9,1.9 0 1,0 -3.8,0zM417.0,51.4a1.9,1.9 0 1,0 3.8,0a1.9,1.9 0 1,0 -3.8,0zM413.6,51.8a1.9,1.9 0 1,0 3.8,0a1.9,1.9 0 1,0 -3.8,0zM410.2,52.2a1.9,1.9 0 1,0 3.8,0a1.9,1.9 0 1,0 -3.8,0zM406.8,52.5a1.9,1.9 0 1,0 3.8,0a1.9,1.9 0 1,0 -3.8,0zM403.5,52.9a1.9,1.9 0 1,0 3.8,0a1.9,1.9 0 1,0 -3.8,0zM400.1,53.4a1.9,1.9 0 1,0 3.8,0a1.9,1.9 0 1,0 -3.8,0zM396.7,53.9a1.9,1.9 0 1,0 3.8,0a1.9,1.9 0 1,0 -3.8,0zM393.4,54.5a1.9,1.9 0 1,0 3.8,0a1.9,1.9 0 1,0 -3.8,0zM390.0,55.1a1.9,1.9 0 1,0 3.8,0a1.9,1.9 0 1,0 -3.8,0zM386.7,55.8a1.9,1.9 0 1,0 3.8,0a1.9,1.9 0 1,0 -3.8,0zM383.4,56.4a1.9,1.9 0 1,0 3.8,0a1.9,1.9 0 1,0 -3.8,0zM380.0,57.1a1.9,1.9 0 1,0 3.8,0a1.9,1.9 0 1,0 -3.8,0zM376.7,57.8a1.9,1.9 0 1,0 3.8,0a1.9,1.9 0 1,0 -3.8,0zM373.4,58.5a1.9,1.9 0 1,0 3.8,0a1.9,1.9 0 1,0 -3.8,0zM370.1,59.2a1.9,1.9 0 1,0 3.8,0a1.9,1.9 0 1,0 -3.8,0zM366.7,59.9a1.9,1.9 0 1,0 3.8,0a1.9,1.9 0 1,0 -3.8,0zM363.4,60.5a1.9,1.9 0 1,0 3.8,0a1.9,1.9 0 1,0 -3.8,0zM360.0,61.1a1.9,1.9 0 1,0 3.8,0a1.9,1.9 0 1,0 -3.8,0zM356.7,61.8a1.9,1.9 0 1,0 3.8,0a1.9,1.9 0 1,0 -3.8,0zM353.4,62.5a1.9,1.9 0 1,0 3.8,0a1.9,1.9 0 1,0 -3.8,0zM350.1,63.3a1.9,1.9 0 1,0 3.8,0a1.9,1.9 0 1,0 -3.8,0zM346.8,64.2a1.9,1.9 0 1,0 3.8,0a1.9,1.9 0 1,0 -3.8,0zM343.7,65.6a1.9,1.9 0 1,0 3.8,0a1.9,1.9 0 1,0 -3.8,0zM341.1,67.8a1.9,1.9 0 1,0 3.8,0a1.9,1.9 0 1,0 -3.8,0zM339.1,70.5a1.9,1.9 0 1,0 3.8,0a1.9,1.9 0 1,0 -3.8,0zM337.7,73.6a1.9,1.9 0 1,0 3.8,0a1.9,1.9 0 1,0 -3.8,0zM336.8,76.9a1.9,1.9 0 1,0 3.8,0a1.9,1.9 0 1,0 -3.8,0zM336.3,80.3a1.9,1.9 0 1,0 3.8,0a1.9,1.9 0 1,0 -3.8,0zM335.8,83.6a1.9,1.9 0 1,0 3.8,0a1.9,1.9 0 1,0 -3.8,0zM335.3,87.0a1.9,1.9 0 1,0 3.8,0a1.9,1.9 0 1,0 -3.8,0zM334.8,90.4a1.9,1.9 0 1,0 3.8,0a1.9,1.9 0 1,0 -3.8,0zM334.4,93.7a1.9,1.9 0 1,0 3.8,0a1.9,1.9 0 1,0 -3.8,0zM333.9,97.1a1.9,1.9 0 1,0 3.8,0a1.9,1.9 0 1,0 -3.8,0zM333.4,100.5a1.9,1.9 0 1,0 3.8,0a1.9,1.9 0 1,0 -3.8,0zM332.9,103.8a1.9,1.9 0 1,0 3.8,0a1.9,1.9 0 1,0 -3.8,0zM332.3,107.2a1.9,1.9 0 1,0 3.8,0a1.9,1.9 0 1,0 -3.8,0zM331.6,110.5a1.9,1.9 0 1,0 3.8,0a1.9,1.9 0 1,0 -3.8,0zM331.2,113.9a1.9,1.9 0 1,0 3.8,0a1.9,1.9 0 1,0 -3.8,0zM330.5,117.2a1.9,1.9 0 1,0 3.8,0a1.9,1.9 0 1,0 -3.8,0zM329.5,120.4a1.9,1.9 0 1,0 3.8,0a1.9,1.9 0 1,0 -3.8,0zM328.4,123.7a1.9,1.9 0 1,0 3.8,0a1.9,1.9 0 1,0 -3.8,0zM327.1,126.8a1.9,1.9 0 1,0 3.8,0a1.9,1.9 0 1,0 -3.8,0zM325.7,129.9a1.9,1.9 0 1,0 3.8,0a1.9,1.9 0 1,0 -3.8,0zM324.0,132.9a1.9,1.9 0 1,0 3.8,0a1.9,1.9 0 1,0 -3.8,0zM322.3,135.8a1.9,1.9 0 1,0 3.8,0a1.9,1.9 0 1,0 -3.8,0zM320.6,138.8a1.9,1.9 0 1,0 3.8,0a1.9,1.9 0 1,0 -3.8,0zM318.7,141.5a1.9,1.9 0 1,0 3.8,0a1.9,1.9 0 1,0 -3.8,0zM316.6,144.2a1.9,1.9 0 1,0 3.8,0a1.9,1.9 0 1,0 -3.8,0zM314.4,146.9a1.9,1.9 0 1,0 3.8,0a1.9,1.9 0 1,0 -3.8,0zM312.3,149.5a1.9,1.9 0 1,0 3.8,0a1.9,1.9 0 1,0 -3.8,0zM310.0,152.0a1.9,1.9 0 1,0 3.8,0a1.9,1.9 0 1,0 -3.8,0zM307.8,154.6a1.9,1.9 0 1,0 3.8,0a1.9,1.9 0 1,0 -3.8,0zM305.5,157.1a1.9,1.9 0 1,0 3.8,0a1.9,1.9 0 1,0 -3.8,0zM303.2,159.6a1.9,1.9 0 1,0 3.8,0a1.9,1.9 0 1,0 -3.8,0zM300.8,162.0a1.9,1.9 0 1,0 3.8,0a1.9,1.9 0 1,0 -3.8,0zM298.4,164.5a1.9,1.9 0 1,0 3.8,0a1.9,1.9 0 1,0 -3.8,0zM296.0,166.8a1.9,1.9 0 1,0 3.8,0a1.9,1.9 0 1,0 -3.8,0zM293.5,169.2a1.9,1.9 0 1,0 3.8,0a1.9,1.9 0 1,0 -3.8,0zM290.9,171.3a1.9,1.9 0 1,0 3.8,0a1.9,1.9 0 1,0 -3.8,0zM288.1,173.3a1.9,1.9 0 1,0 3.8,0a1.9,1.9 0 1,0 -3.8,0zM285.2,175.0a1.9,1.9 0 1,0 3.8,0a1.9,1.9 0 1,0 -3.8,0zM282.2,176.5a1.9,1.9 0 1,0 3.8,0a1.9,1.9 0 1,0 -3.8,0zM278.9,177.6a1.9,1.9 0 1,0 3.8,0a1.9,1.9 0 1,0 -3.8,0zM275.6,178.1a1.9,1.9 0 1,0 3.8,0a1.9,1.9 0 1,0 -3.8,0zM272.2,178.5a1.9,1.9 0 1,0 3.8,0a1.9,1.9 0 1,0 -3.8,0zM268.8,178.8a1.9,1.9 0 1,0 3.8,0a1.9,1.9 0 1,0 -3.8,0zM265.4,179.1a1.9,1.9 0 1,0 3.8,0a1.9,1.9 0 1,0 -3.8,0zM262.0,179.4a1.9,1.9 0 1,0 3.8,0a1.9,1.9 0 1,0 -3.8,0zM258.7,179.7a1.9,1.9 0 1,0 3.8,0a1.9,1.9 0 1,0 -3.8,0zM255.3,180.0a1.9,1.9 0 1,0 3.8,0a1.9,1.9 0 1,0 -3.8,0zM251.9,180.3a1.9,1.9 0 1,0 3.8,0a1.9,1.9 0 1,0 -3.8,0zM248.5,180.7a1.9,1.9 0 1,0 3.8,0a1.9,1.9 0 1,0 -3.8,0zM245.1,181.0a1.9,1.9 0 1,0 3.8,0a1.9,1.9 0 1,0 -3.8,0zM241.7,181.3a1.9,1.9 0 1,0 3.8,0a1.9,1.9 0 1,0 -3.8,0zM238.3,181.5a1.9,1.9 0 1,0 3.8,0a1.9,1.9 0 1,0 -3.8,0zM234.9,181.7a1.9,1.9 0 1,0 3.8,0a1.9,1.9 0 1,0 -3.8,0z" fill="#f03a3a"/>
<polyline points="235.0,181.8 235.7,181.8 236.5,181.7 237.5,181.7 238.7,181.6 239.9,181.5 241.1,181.4 242.4,181.4 243.7,181.3 244.9,181.2 246.0,181.1 247.0,181.0 248.0,180.9 248.9,180.8 249.9,180.7 250.8,180.6 251.8,180.5 252.7,180.4 253.8,180.3 254.8,180.2 256.0,180.1 257.2,180.0 258.6,179.8 259.9,179.7 261.4,179.6 262.8,179.4 264.3,179.3 265.7,179.1 267.2,179.0 268.6,178.8 270.0,178.7 271.3,178.6 272.6,178.4 273.8,178.3 275.1,178.1 276.3,178.0 277.6,177.9 278.8,177.7 280.2,177.6 281.5,177.4 283.0,177.2 284.6,177.0 286.2,176.8 288.0,176.6 289.8,176.4 291.6,176.1 293.4,175.9 295.2,175.7 296.9,175.4 298.5,175.2 300.0,174.9 301.3,174.6 302.6,174.4 303.8,174.1 304.9,173.8 305.9,173.5 307.0,173.2 308.0,172.9 309.0,172.6 310.0,172.4 311.0,172.1 312.0,171.9 313.1,171.6 314.1,171.4 315.2,171.2 316.2,171.0 317.2,170.8 318.2,170.6 319.1,170.4 320.1,170.2 321.0,170.0 321.9,169.8 322.8,169.6 323.7,169.5 324.5,169.3 325.4,169.1 326.2,169.0 326.9,168.8 327.7,168.7 328.4,168.5 329.0,168.4 329.6,168.3 330.1,168.2 330.6,168.1 331.0,168.0 331.4,167.9 331.8,167.8 332.1,167.7 332.5,167.6 332.8,167.5 333.2,167.4 333.6,167.3 334.0,167.1 334.3,167.0 334.7,166.8 335.1,166.6 335.4,166.5 335.7,166.3 336.1,166.1 336.4,165.9 336.7,165.7 337.0,165.5 337.3,165.3 337.5,165.1 337.8,164.9 338.1,164.6 338.3,164.4 338.5,164.2 338.8,163.9 339.0,163.7 339.2,163.4 339.4,163.1 339.6,162.8 339.8,162.5 340.0,162.2 340.2,161.9 340.4,161.6 340.5,161.3 340.7,160.9 340.8,160.6 341.0,160.2 341.1,159.8 341.3,159.4 341.4,159.1 341.5,158.7 341.7,158.3 341.8,157.8 341.9,157.4 342.0,157.0 342.1,156.5 342.2,156.0 342.3,155.5 342.3,155.0 342.4,154.5 342.4,153.9 342.5,153.4 342.5,152.8 342.6,152.2 342.7,151.6 342.7,151.0 342.8,150.3 342.9,149.6 343.0,148.9 343.0,148.2 343.1,147.4 343.2,146.6 343.3,145.9 343.5,145.1 343.6,144.2 343.7,143.4 343.8,142.6 343.9,141.8 344.0,140.9 344.1,140.1 344.3,139.2 344.4,138.3 344.5,137.4 344.7,136.5 344.8,135.6 344.9,134.7 345.0,133.8 345.2,132.9 345.3,131.9 345.4,131.0 345.5,130.0 345.6,129.0 345.7,128.0 345.9,127.1 346.0,126.2 346.1,125.4 346.2,124.7 346.3,124.1 346.4,123.5 346.6,123.0 346.7,122.5 346.8,122.1 346.9,121.7 347.0,121.3 347.1,120.9 347.2,120.5 347.3,120.0 347.4,119.5 347.5,119.1 347.6,118.6 347.6,118.1 347.7,117.7 347.8,117.2 347.9,116.8 348.0,116.3 348.1,115.8 348.2,115.3 348.3,114.8 348.5,114.3 348.6,113.8 348.7,113.3 348.9,112.7 349.0,112.2 349.2,111.7 349.4,111.1 349.5,110.6 349.7,110.0 349.9,109.4 350.1,108.8 350.3,108.2 350.5,107.6 350.7,107.0 350.9,106.3 351.1,105.7 351.3,105.1 351.5,104.5 351.7,104.0 351.9,103.5 352.1,103.0 352.3,102.5 352.6,102.1 352.8,101.6 353.0,101.2 353.2,100.8 353.4,100.3 353.7,99.9 353.9,99.5 354.1,99.1 354.3,98.7 354.5,98.4 354.8,98.0 355.0,97.7 355.2,97.3 355.4,96.9 355.7,96.5 356.0,96.0 356.3,95.5 356.6,94.9 357.0,94.3 357.4,93.6 357.8,92.9 358.2,92.2 358.7,91.4 359.1,90.7 359.6,89.9 360.0,89.2 360.5,88.5 361.0,87.8 361.4,87.2 361.9,86.5 362.4,85.8 362.8,85.2 363.3,84.6 363.8,83.9 364.3,83.3 364.8,82.6 365.3,82.0 365.8,81.4 366.3,80.8 366.8,80.2 367.2,79.6 367.7,79.0 368.2,78.4 368.7,77.8 369.2,77.2 369.8,76.5 370.3,75.8 370.9,75.0 371.4,74.2 372.0,73.4 372.6,72.5 373.2,71.7 373.8,70.8 374.5,69.9 375.1,69.1 375.7,68.3 376.3,67.5 377.0,66.8 377.6,66.0 378.3,65.3 379.0,64.6 379.7,64.0 380.4,63.3 381.1,62.7 381.8,62.1 382.5,61.5 383.1,61.0 383.8,60.5 384.5,60.0 385.1,59.6 385.8,59.2 386.4,58.8 387.1,58.5 387.7,58.1 388.3,57.8 388.9,57.5 389.5,57.2 390.1,56.9 390.6,56.6 391.2,56.4 391.7,56.2 392.2,55.9 392.8,55.7 393.3,55.5 393.9,55.4 394.4,55.2 395.0,55.0 395.6,54.8 396.1,54.7 396.7,54.5 397.2,54.4 397.8,54.3 398.4,54.2 399.0,54.1 399.6,53.9 400.3,53.8 401.0,53.7 401.8,53.6 402.6,53.4 403.4,53.3 404.3,53.2 405.2,53.0 406.2,52.9 407.1,52.8 408.1,52.6 409.0,52.5 410.0,52.4 411.0,52.3 411.9,52.2 412.9,52.0 413.9,51.9 414.9,51.8 416.0,51.7 417.0,51.6 418.0,51.5 419.0,51.4 420.0,51.3 421.0,51.2 422.0,51.1 423.0,51.0 424.0,51.0 425.0,50.9 426.0,50.8 427.0,50.7 428.0,50.6 429.0,50.6 430.0,50.5 431.0,50.4 432.1,50.3 433.1,50.3 434.2,50.2 435.2,50.1 436.3,50.1 437.3,50.0 438.3,49.9 439.2,49.9 440.0,49.8 440.8,49.7 441.6,49.7 442.3,49.6 443.0,49.6 443.6,49.6 444.2,49.5 444.8,49.5 445.2,49.4 445.7,49.4 446.0,49.4" fill="none" stroke="#f03a3a" stroke-width="2.8" stroke-linejoin="round" stroke-linecap="round"/>
<path d="M233.1,181.8a1.9,1.9 0 1,0 3.8,0a1.9,1.9 0 1,0 -3.8,0zM236.5,181.6a1.9,1.9 0 1,0 3.8,0a1.9,1.9 0 1,0 -3.8,0zM239.9,181.4a1.9,1.9 0 1,0 3.8,0a1.9,1.9 0 1,0 -3.8,0zM243.3,181.2a1.9,1.9 0 1,0 3.8,0a1.9,1.9 0 1,0 -3.8,0zM246.7,180.9a1.9,1.9 0 1,0 3.8,0a1.9,1.9 0 1,0 -3.8,0zM250.0,180.5a1.9,1.9 0 1,0 3.8,0a1.9,1.9 0 1,0 -3.8,0zM253.4,180.2a1.9,1.9 0 1,0 3.8,0a1.9,1.9 0 1,0 -3.8,0zM256.8,179.8a1.9,1.9 0 1,0 3.8,0a1.9,1.9 0 1,0 -3.8,0zM260.2,179.5a1.9,1.9 0 1,0 3.8,0a1.9,1.9 0 1,0 -3.8,0zM263.6,179.2a1.9,1.9 0 1,0 3.8,0a1.9,1.9 0 1,0 -3.8,0zM267.0,178.8a1.9,1.9 0 1,0 3.8,0a1.9,1.9 0 1,0 -3.8,0zM270.3,178.5a1.9,1.9 0 1,0 3.8,0a1.9,1.9 0 1,0 -3.8,0zM273.7,178.1a1.9,1.9 0 1,0 3.8,0a1.9,1.9 0 1,0 -3.8,0zM277.1,177.7a1.9,1.9 0 1,0 3.8,0a1.9,1.9 0 1,0 -3.8,0zM280.5,177.3a1.9,1.9 0 1,0 3.8,0a1.9,1.9 0 1,0 -3.8,0zM283.9,176.9a1.9,1.9 0 1,0 3.8,0a1.9,1.9 0 1,0 -3.8,0zM287.2,176.4a1.9,1.9 0 1,0 3.8,0a1.9,1.9 0 1,0 -3.8,0zM290.6,176.0a1.9,1.9 0 1,0 3.8,0a1.9,1.9 0 1,0 -3.8,0zM294.0,175.6a1.9,1.9 0 1,0 3.8,0a1.9,1.9 0 1,0 -3.8,0zM297.3,175.0a1.9,1.9 0 1,0 3.8,0a1.9,1.9 0 1,0 -3.8,0zM300.7,174.4a1.9,1.9 0 1,0 3.8,0a1.9,1.9 0 1,0 -3.8,0zM303.9,173.5a1.9,1.9 0 1,0 3.8,0a1.9,1.9 0 1,0 -3.8,0zM307.2,172.6a1.9,1.9 0 1,0 3.8,0a1.9,1.9 0 1,0 -3.8,0zM310.5,171.8a1.9,1.9 0 1,0 3.8,0a1.9,1.9 0 1,0 -3.8,0zM313.8,171.1a1.9,1.9 0 1,0 3.8,0a1.9,1.9 0 1,0 -3.8,0zM317.2,170.4a1.9,1.9 0 1,0 3.8,0a1.9,1.9 0 1,0 -3.8,0zM320.5,169.7a1.9,1.9 0 1,0 3.8,0a1.9,1.9 0 1,0 -3.8,0zM323.8,169.1a1.9,1.9 0 1,0 3.8,0a1.9,1.9 0 1,0 -3.8,0zM327.2,168.4a1.9,1.9 0 1,0 3.8,0a1.9,1.9 0 1,0 -3.8,0zM330.5,167.7a1.9,1.9 0 1,0 3.8,0a1.9,1.9 0 1,0 -3.8,0zM333.6,166.4a1.9,1.9 0 1,0 3.8,0a1.9,1.9 0 1,0 -3.8,0zM336.4,164.4a1.9,1.9 0 1,0 3.8,0a1.9,1.9 0 1,0 -3.8,0zM338.4,161.7a1.9,1.9 0 1,0 3.8,0a1.9,1.9 0 1,0 -3.8,0zM339.7,158.5a1.9,1.9 0 1,0 3.8,0a1.9,1.9 0 1,0 -3.8,0zM340.4,155.2a1.9,1.9 0 1,0 3.8,0a1.9,1.9 0 1,0 -3.8,0zM340.7,151.8a1.9,1.9 0 1,0 3.8,0a1.9,1.9 0 1,0 -3.8,0zM341.1,148.5a1.9,1.9 0 1,0 3.8,0a1.9,1.9 0 1,0 -3.8,0zM341.5,145.1a1.9,1.9 0 1,0 3.8,0a1.9,1.9 0 1,0 -3.8,0zM342.0,141.7a1.9,1.9 0 1,0 3.8,0a1.9,1.9 0 1,0 -3.8,0zM342.5,138.3a1.9,1.9 0 1,0 3.8,0a1.9,1.9 0 1,0 -3.8,0zM343.0,135.0a1.9,1.9 0 1,0 3.8,0a1.9,1.9 0 1,0 -3.8,0zM343.4,131.6a1.9,1.9 0 1,0 3.8,0a1.9,1.9 0 1,0 -3.8,0zM343.8,128.2a1.9,1.9 0 1,0 3.8,0a1.9,1.9 0 1,0 -3.8,0zM344.3,124.9a1.9,1.9 0 1,0 3.8,0a1.9,1.9 0 1,0 -3.8,0zM345.0,121.6a1.9,1.9 0 1,0 3.8,0a1.9,1.9 0 1,0 -3.8,0zM345.7,118.2a1.9,1.9 0 1,0 3.8,0a1.9,1.9 0 1,0 -3.8,0zM346.4,114.9a1.9,1.9 0 1,0 3.8,0a1.9,1.9 0 1,0 -3.8,0zM347.3,111.6a1.9,1.9 0 1,0 3.8,0a1.9,1.9 0 1,0 -3.8,0zM348.3,108.4a1.9,1.9 0 1,0 3.8,0a1.9,1.9 0 1,0 -3.8,0zM349.4,105.1a1.9,1.9 0 1,0 3.8,0a1.9,1.9 0 1,0 -3.8,0zM350.7,102.0a1.9,1.9 0 1,0 3.8,0a1.9,1.9 0 1,0 -3.8,0zM352.3,99.0a1.9,1.9 0 1,0 3.8,0a1.9,1.9 0 1,0 -3.8,0zM354.0,96.1a1.9,1.9 0 1,0 3.8,0a1.9,1.9 0 1,0 -3.8,0zM355.8,93.2a1.9,1.9 0 1,0 3.8,0a1.9,1.9 0 1,0 -3.8,0zM357.5,90.2a1.9,1.9 0 1,0 3.8,0a1.9,1.9 0 1,0 -3.8,0zM359.4,87.4a1.9,1.9 0 1,0 3.8,0a1.9,1.9 0 1,0 -3.8,0zM361.4,84.7a1.9,1.9 0 1,0 3.8,0a1.9,1.9 0 1,0 -3.8,0zM363.4,82.0a1.9,1.9 0 1,0 3.8,0a1.9,1.9 0 1,0 -3.8,0zM365.6,79.3a1.9,1.9 0 1,0 3.8,0a1.9,1.9 0 1,0 -3.8,0zM367.7,76.7a1.9,1.9 0 1,0 3.8,0a1.9,1.9 0 1,0 -3.8,0zM369.7,73.9a1.9,1.9 0 1,0 3.8,0a1.9,1.9 0 1,0 -3.8,0zM371.7,71.2a1.9,1.9 0 1,0 3.8,0a1.9,1.9 0 1,0 -3.8,0zM373.7,68.4a1.9,1.9 0 1,0 3.8,0a1.9,1.9 0 1,0 -3.8,0zM375.9,65.8a1.9,1.9 0 1,0 3.8,0a1.9,1.9 0 1,0 -3.8,0zM378.3,63.5a1.9,1.9 0 1,0 3.8,0a1.9,1.9 0 1,0 -3.8,0zM380.9,61.3a1.9,1.9 0 1,0 3.8,0a1.9,1.9 0 1,0 -3.8,0zM383.7,59.3a1.9,1.9 0 1,0 3.8,0a1.9,1.9 0 1,0 -3.8,0zM386.7,57.7a1.9,1.9 0 1,0 3.8,0a1.9,1.9 0 1,0 -3.8,0zM389.8,56.2a1.9,1.9 0 1,0 3.8,0a1.9,1.9 0 1,0 -3.8,0zM393.0,55.0a1.9,1.9 0 1,0 3.8,0a1.9,1.9 0 1,0 -3.8,0zM396.2,54.2a1.9,1.9 0 1,0 3.8,0a1.9,1.9 0 1,0 -3.8,0zM399.6,53.6a1.9,1.9 0 1,0 3.8,0a1.9,1.9 0 1,0 -3.8,0zM403.0,53.1a1.9,1.9 0 1,0 3.8,0a1.9,1.9 0 1,0 -3.8,0zM406.3,52.6a1.9,1.9 0 1,0 3.8,0a1.9,1.9 0 1,0 -3.8,0zM409.7,52.2a1.9,1.9 0 1,0 3.8,0a1.9,1.9 0 1,0 -3.8,0zM413.1,51.8a1.9,1.9 0 1,0 3.8,0a1.9,1.9 0 1,0 -3.8,0zM416.5,51.5a1.9,1.9 0 1,0 3.8,0a1.9,1.9 0 1,0 -3.8,0zM419.8,51.1a1.9,1.9 0 1,0 3.8,0a1.9,1.9 0 1,0 -3.8,0zM423.2,50.9a1.9,1.9 0 1,0 3.8,0a1.9,1.9 0 1,0 -3.8,0zM426.6,50.6a1.9,1.9 0 1,0 3.8,0a1.9,1.9 0 1,0 -3.8,0zM430.0,50.4a1.9,1.9 0 1,0 3.8,0a1.9,1.9 0 1,0 -3.8,0zM433.4,50.1a1.9,1.9 0 1,0 3.8,0a1.9,1.9 0 1,0 -3.8,0zM436.8,49.9a1.9,1.9 0 1,0 3.8,0a1.9,1.9 0 1,0 -3.8,0zM440.2,49.7a1.9,1.9 0 1,0 3.8,0a1.9,1.9 0 1,0 -3.8,0zM443.6,49.4a1.9,1.9 0 1,0 3.8,0a1.9,1.9 0 1,0 -3.8,0z" fill="#f03a3a"/>
<polyline points="446.0,46.2 445.7,46.2 445.2,46.2 444.8,46.3 444.2,46.3 443.6,46.4 443.0,46.4 442.3,46.4 441.6,46.5 440.8,46.5 440.0,46.6 439.2,46.7 438.3,46.7 437.3,46.8 436.3,46.8 435.2,46.9 434.2,47.0 433.1,47.1 432.1,47.1 431.0,47.2 430.0,47.3 429.0,47.4 428.0,47.5 427.0,47.5 426.0,47.6 425.0,47.7 424.0,47.8 423.0,47.9 422.0,48.0 421.0,48.1 420.0,48.2 419.0,48.3 418.0,48.4 416.9,48.5 415.9,48.6 414.9,48.7 413.9,48.9 412.9,49.0 411.9,49.1 410.9,49.2 410.0,49.3 409.1,49.4 408.3,49.5 407.5,49.6 406.8,49.7 406.0,49.8 405.2,49.9 404.5,50.0 403.7,50.1 402.9,50.3 402.0,50.4 401.1,50.5 400.2,50.7 399.2,50.8 398.2,51.0 397.2,51.2 396.2,51.3 395.2,51.5 394.2,51.7 393.1,51.9 392.0,52.1 390.9,52.3 389.7,52.5 388.5,52.8 387.2,53.0 386.0,53.3 384.8,53.5 383.5,53.8 382.3,54.0 381.1,54.3 380.0,54.5 378.9,54.7 377.9,54.9 376.9,55.2 375.9,55.4 374.9,55.6 373.9,55.8 372.9,56.0 372.0,56.2 371.0,56.4 370.0,56.6 369.0,56.8 368.0,57.0 366.9,57.2 365.9,57.4 364.9,57.5 363.9,57.7 362.9,57.9 361.9,58.1 360.9,58.3 360.0,58.5 359.1,58.7 358.2,58.9 357.3,59.1 356.5,59.4 355.6,59.6 354.8,59.8 354.0,60.0 353.3,60.2 352.6,60.4 352.0,60.6 351.4,60.8 350.9,60.9 350.5,61.0 350.1,61.2 349.7,61.3 349.4,61.4 349.0,61.6 348.7,61.7 348.4,61.8 348.0,62.0 347.6,62.2 347.3,62.4 346.9,62.6 346.6,62.8 346.2,63.0 345.9,63.2 345.5,63.4 345.2,63.6 344.9,63.9 344.6,64.1 344.3,64.4 344.0,64.6 343.8,64.9 343.5,65.2 343.3,65.5 343.0,65.8 342.8,66.1 342.5,66.4 342.3,66.7 342.1,67.0 341.9,67.3 341.7,67.7 341.5,68.0 341.3,68.3 341.1,68.7 340.9,69.0 340.7,69.4 340.5,69.8 340.4,70.2 340.2,70.6 340.0,71.0 339.9,71.5 339.7,72.0 339.6,72.4 339.4,72.9 339.3,73.4 339.2,73.9 339.0,74.5 338.9,75.0 338.8,75.5 338.7,76.0 338.6,76.5 338.5,77.1 338.4,77.6 338.3,78.1 338.2,78.7 338.1,79.2 338.0,79.8 337.9,80.4 337.8,81.0 337.7,81.6 337.6,82.3 337.5,82.9 337.3,83.6 337.2,84.3 337.1,85.0 337.0,85.7 336.9,86.4 336.7,87.2 336.6,88.0 336.5,88.8 336.3,89.7 336.2,90.6 336.1,91.5 335.9,92.4 335.8,93.3 335.6,94.2 335.5,95.2 335.3,96.1 335.2,97.0 335.1,97.9 334.9,98.9 334.7,99.8 334.6,100.8 334.4,101.8 334.3,102.7 334.1,103.6 334.0,104.5 333.8,105.3 333.7,106.0 333.6,106.7 333.5,107.2 333.4,107.8 333.3,108.2 333.2,108.7 333.1,109.1 333.0,109.5 333.0,109.9 332.9,110.4 332.8,110.8 332.7,111.3 332.7,111.7 332.6,112.1 332.6,112.6 332.5,113.0 332.5,113.4 332.4,113.9 332.4,114.3 332.3,114.8 332.2,115.3 332.1,115.8 332.0,116.3 331.8,116.8 331.7,117.4 331.5,117.9 331.3,118.5 331.2,119.0 331.0,119.6 330.8,120.1 330.6,120.7 330.4,121.3 330.2,121.9 330.0,122.5 329.8,123.1 329.6,123.7 329.3,124.4 329.1,125.0 328.9,125.6 328.6,126.1 328.4,126.7 328.2,127.2 327.9,127.7 327.7,128.3 327.5,128.7 327.2,129.2 327.0,129.7 326.7,130.2 326.5,130.6 326.2,131.1 326.0,131.5 325.8,131.9 325.5,132.3 325.3,132.7 325.0,133.1 324.8,133.5 324.6,133.9 324.3,134.3 324.1,134.7 323.8,135.1 323.6,135.5 323.4,135.9 323.2,136.3 323.0,136.7 322.8,137.1 322.5,137.5 322.3,137.9 322.1,138.4 321.8,138.9 321.4,139.4 321.0,140.0 320.5,140.7 320.0,141.4 319.4,142.1 318.8,142.9 318.1,143.8 317.4,144.6 316.8,145.5 316.1,146.3 315.4,147.2 314.7,148.0 314.0,148.8 313.4,149.6 312.7,150.4 312.0,151.2 311.3,152.0 310.6,152.8 309.9,153.6 309.1,154.4 308.4,155.2 307.7,156.0 307.0,156.8 306.2,157.6 305.4,158.5 304.6,159.3 303.9,160.1 303.1,160.9 302.3,161.7 301.5,162.5 300.8,163.3 300.1,164.0 299.4,164.7 298.8,165.3 298.1,166.0 297.5,166.6 296.9,167.2 296.2,167.8 295.6,168.3 295.0,168.9 294.4,169.4 293.8,170.0 293.2,170.5 292.5,171.1 291.9,171.6 291.3,172.2 290.6,172.7 290.0,173.2 289.4,173.7 288.8,174.1 288.2,174.6 287.7,175.0 287.2,175.4 286.7,175.7 286.3,176.1 285.8,176.4 285.4,176.7 285.0,177.0 284.6,177.2 284.2,177.5 283.7,177.7 283.3,178.0 282.9,178.2 282.4,178.5 282.0,178.7 281.6,178.9 281.2,179.1 280.7,179.3 280.2,179.5 279.7,179.7 279.1,179.8 278.5,180.0 277.8,180.2 277.1,180.3 276.4,180.5 275.6,180.6 274.8,180.7 274.0,180.9 273.1,181.0 272.1,181.1 271.1,181.3 270.0,181.4 268.8,181.5 267.5,181.7 266.1,181.8 264.6,182.0 263.1,182.1 261.6,182.3 260.1,182.4 258.6,182.6 257.3,182.7 256.0,182.8 254.8,182.9 253.8,183.0 252.7,183.1 251.8,183.2 250.8,183.3 249.9,183.4 248.9,183.5 248.0,183.5 247.0,183.6 246.0,183.7 244.9,183.8 243.7,183.8 242.4,183.9 241.1,184.0 239.9,184.1 238.7,184.1 237.5,184.2 236.5,184.2 235.7,184.3 235.0,184.3" fill="none" stroke="#1f66dc" stroke-width="2.8" stroke-linejoin="round" stroke-linecap="round"/>
<path d="M446.0,43.2l2.3,4.6h-4.6zM442.6,43.4l2.3,4.6h-4.6zM439.2,43.7l2.3,4.6h-4.6zM435.8,43.9l2.3,4.6h-4.6zM432.4,44.1l2.3,4.6h-4.6zM429.0,44.4l2.3,4.6h-4.6zM425.7,44.7l2.3,4.6h-4.6zM422.3,45.0l2.3,4.6h-4.6zM418.9,45.3l2.3,4.6h-4.6zM415.5,45.7l2.3,4.6h-4.6zM412.1,46.0l2.3,4.6h-4.6zM408.7,46.5l2.3,4.6h-4.6zM405.4,46.9l2.3,4.6h-4.6zM402.0,47.4l2.3,4.6h-4.6zM398.7,47.9l2.3,4.6h-4.6zM395.3,48.5l2.3,4.6h-4.6zM392.0,49.1l2.3,4.6h-4.6zM388.6,49.8l2.3,4.6h-4.6zM385.3,50.4l2.3,4.6h-4.6zM382.0,51.1l2.3,4.6h-4.6zM378.6,51.8l2.3,4.6h-4.6zM375.3,52.5l2.3,4.6h-4.6zM372.0,53.2l2.3,4.6h-4.6zM368.6,53.9l2.3,4.6h-4.6zM365.3,54.5l2.3,4.6h-4.6zM362.0,55.1l2.3,4.6h-4.6zM358.6,55.8l2.3,4.6h-4.6zM355.3,56.7l2.3,4.6h-4.6zM352.1,57.6l2.3,4.6h-4.6zM348.8,58.6l2.3,4.6h-4.6zM345.8,60.2l2.3,4.6h-4.6zM343.3,62.4l2.3,4.6h-4.6zM341.3,65.2l2.3,4.6h-4.6zM339.9,68.3l2.3,4.6h-4.6zM339.0,71.6l2.3,4.6h-4.6zM338.3,74.9l2.3,4.6h-4.6zM337.8,78.3l2.3,4.6h-4.6zM337.2,81.6l2.3,4.6h-4.6zM336.6,85.0l2.3,4.6h-4.6zM336.1,88.3l2.3,4.6h-4.6zM335.6,91.7l2.3,4.6h-4.6zM335.0,95.0l2.3,4.6h-4.6zM334.5,98.4l2.3,4.6h-4.6zM333.9,101.8l2.3,4.6h-4.6zM333.3,105.1l2.3,4.6h-4.6zM332.7,108.4l2.3,4.6h-4.6zM332.3,111.8l2.3,4.6h-4.6zM331.4,115.1l2.3,4.6h-4.6zM330.4,118.3l2.3,4.6h-4.6zM329.3,121.5l2.3,4.6h-4.6zM328.0,124.7l2.3,4.6h-4.6zM326.4,127.7l2.3,4.6h-4.6zM324.7,130.7l2.3,4.6h-4.6zM323.0,133.6l2.3,4.6h-4.6zM321.3,136.5l2.3,4.6h-4.6zM319.3,139.3l2.3,4.6h-4.6zM317.2,142.0l2.3,4.6h-4.6zM315.0,144.6l2.3,4.6h-4.6zM312.9,147.2l2.3,4.6h-4.6zM310.6,149.8l2.3,4.6h-4.6zM308.4,152.3l2.3,4.6h-4.6zM306.1,154.8l2.3,4.6h-4.6zM303.7,157.3l2.3,4.6h-4.6zM301.4,159.7l2.3,4.6h-4.6zM299.0,162.1l2.3,4.6h-4.6zM296.5,164.5l2.3,4.6h-4.6zM294.0,166.8l2.3,4.6h-4.6zM291.5,169.0l2.3,4.6h-4.6zM288.8,171.1l2.3,4.6h-4.6zM286.1,173.2l2.3,4.6h-4.6zM283.2,175.0l2.3,4.6h-4.6zM280.2,176.5l2.3,4.6h-4.6zM276.9,177.4l2.3,4.6h-4.6zM273.5,177.9l2.3,4.6h-4.6zM270.2,178.4l2.3,4.6h-4.6zM266.8,178.8l2.3,4.6h-4.6zM263.4,179.1l2.3,4.6h-4.6zM260.0,179.4l2.3,4.6h-4.6zM256.6,179.7l2.3,4.6h-4.6zM253.2,180.1l2.3,4.6h-4.6zM249.9,180.4l2.3,4.6h-4.6zM246.5,180.7l2.3,4.6h-4.6zM243.1,180.9l2.3,4.6h-4.6zM239.7,181.1l2.3,4.6h-4.6zM236.3,181.2l2.3,4.6h-4.6z" fill="#1f66dc"/>
<polyline points="235.0,184.3 235.7,184.3 236.5,184.2 237.5,184.2 238.7,184.1 239.9,184.1 241.1,184.0 242.4,183.9 243.7,183.8 244.9,183.8 246.0,183.7 247.0,183.6 248.0,183.5 248.9,183.5 249.9,183.4 250.8,183.3 251.8,183.2 252.7,183.1 253.8,183.0 254.8,182.9 256.0,182.8 257.2,182.7 258.6,182.6 259.9,182.4 261.4,182.3 262.8,182.1 264.3,182.0 265.7,181.9 267.2,181.7 268.6,181.6 270.0,181.4 271.3,181.3 272.6,181.1 273.8,181.0 275.1,180.8 276.3,180.7 277.6,180.5 278.8,180.3 280.2,180.2 281.5,180.0 283.0,179.8 284.6,179.6 286.2,179.4 288.0,179.2 289.8,178.9 291.6,178.7 293.4,178.4 295.2,178.2 296.9,177.9 298.5,177.7 300.0,177.4 301.3,177.1 302.6,176.9 303.8,176.6 304.9,176.3 305.9,176.0 307.0,175.7 308.0,175.4 309.0,175.1 310.0,174.9 311.0,174.6 312.0,174.4 313.1,174.1 314.1,173.9 315.2,173.7 316.2,173.4 317.2,173.2 318.2,173.0 319.1,172.8 320.1,172.6 321.0,172.4 321.9,172.2 322.8,172.0 323.7,171.8 324.5,171.6 325.4,171.4 326.2,171.3 326.9,171.1 327.7,170.9 328.4,170.8 329.0,170.6 329.6,170.5 330.1,170.3 330.6,170.2 331.0,170.1 331.4,170.0 331.8,169.9 332.1,169.8 332.5,169.7 332.8,169.5 333.2,169.4 333.6,169.2 334.0,169.1 334.3,168.9 334.7,168.7 335.1,168.5 335.4,168.3 335.7,168.1 336.1,167.9 336.4,167.7 336.7,167.5 337.0,167.3 337.3,167.1 337.5,166.8 337.8,166.6 338.1,166.3 338.3,166.1 338.5,165.8 338.8,165.6 339.0,165.3 339.2,165.0 339.4,164.7 339.6,164.4 339.8,164.1 340.0,163.7 340.2,163.4 340.4,163.0 340.5,162.7 340.7,162.3 340.8,161.9 341.0,161.5 341.1,161.1 341.3,160.7 341.4,160.3 341.5,159.8 341.7,159.4 341.8,159.0 341.9,158.5 342.0,158.0 342.1,157.5 342.2,157.0 342.3,156.5 342.4,155.9 342.5,155.4 342.5,154.8 342.6,154.2 342.7,153.6 342.7,153.0 342.8,152.4 342.9,151.7 343.0,151.0 343.1,150.3 343.2,149.5 343.3,148.8 343.4,148.0 343.6,147.2 343.7,146.4 343.8,145.5 343.9,144.7 344.1,143.8 344.2,143.0 344.3,142.1 344.5,141.3 344.6,140.4 344.8,139.5 344.9,138.6 345.0,137.7 345.2,136.8 345.3,135.8 345.5,134.9 345.6,134.0 345.7,133.1 345.9,132.1 346.0,131.1 346.1,130.1 346.3,129.1 346.4,128.1 346.5,127.2 346.7,126.3 346.8,125.4 346.9,124.7 347.0,124.0 347.1,123.5 347.3,123.0 347.4,122.5 347.5,122.1 347.6,121.7 347.7,121.3 347.8,120.9 347.9,120.4 348.0,120.0 348.1,119.5 348.2,119.1 348.3,118.6 348.3,118.1 348.4,117.7 348.5,117.2 348.6,116.8 348.7,116.3 348.8,115.8 348.9,115.3 349.0,114.8 349.2,114.3 349.3,113.8 349.4,113.3 349.6,112.7 349.7,112.2 349.9,111.7 350.1,111.1 350.2,110.6 350.4,110.0 350.6,109.4 350.8,108.8 351.0,108.2 351.2,107.6 351.4,107.0 351.6,106.3 351.8,105.7 352.0,105.1 352.2,104.5 352.4,104.0 352.6,103.5 352.8,103.0 353.0,102.5 353.3,102.1 353.5,101.6 353.7,101.2 353.9,100.8 354.1,100.3 354.4,99.9 354.6,99.5 354.8,99.1 355.0,98.7 355.2,98.4 355.5,98.0 355.7,97.7 355.9,97.3 356.1,96.9 356.4,96.5 356.7,96.0 357.0,95.5 357.3,94.9 357.7,94.3 358.1,93.6 358.5,92.9 358.9,92.2 359.4,91.4 359.8,90.7 360.3,89.9 360.7,89.2 361.2,88.5 361.7,87.8 362.1,87.2 362.6,86.5 363.1,85.8 363.5,85.2 364.0,84.6 364.5,83.9 365.0,83.3 365.5,82.6 366.0,82.0 366.5,81.4 367.0,80.8 367.5,80.2 367.9,79.6 368.4,79.0 368.9,78.4 369.4,77.8 369.9,77.2 370.5,76.5 371.0,75.8 371.6,75.0 372.1,74.3 372.7,73.4 373.3,72.6 373.9,71.7 374.5,70.8 375.1,70.0 375.8,69.1 376.4,68.3 377.0,67.5 377.6,66.7 378.3,66.0 378.9,65.2 379.6,64.5 380.2,63.8 380.9,63.1 381.6,62.4 382.2,61.7 382.9,61.1 383.5,60.5 384.1,59.9 384.7,59.4 385.4,58.9 386.0,58.5 386.6,58.0 387.2,57.6 387.8,57.2 388.3,56.8 388.9,56.4 389.5,56.0 390.1,55.6 390.6,55.3 391.2,54.9 391.7,54.6 392.2,54.2 392.8,53.9 393.3,53.6 393.9,53.3 394.4,53.1 395.0,52.8 395.6,52.6 396.1,52.3 396.7,52.1 397.2,51.9 397.8,51.8 398.4,51.6 399.0,51.4 399.6,51.2 400.3,51.1 401.0,50.9 401.8,50.7 402.6,50.6 403.4,50.4 404.3,50.2 405.2,50.0 406.2,49.9 407.1,49.7 408.1,49.6 409.0,49.4 410.0,49.3 411.0,49.2 411.9,49.0 412.9,48.9 413.9,48.8 414.9,48.7 416.0,48.6 417.0,48.5 418.0,48.4 419.0,48.3 420.0,48.2 421.0,48.1 422.0,48.0 423.0,47.9 424.0,47.8 425.0,47.7 426.0,47.6 427.0,47.5 428.0,47.5 429.0,47.4 430.0,47.3 431.0,47.2 432.1,47.1 433.1,47.1 434.2,47.0 435.2,46.9 436.3,46.8 437.3,46.8 438.3,46.7 439.2,46.7 440.0,46.6 440.8,46.5 441.6,46.5 442.3,46.4 443.0,46.4 443.6,46.4 444.2,46.3 444.8,46.3 445.2,46.2 445.7,46.2 446.0,46.2" fill="none" stroke="#1f66dc" stroke-width="2.8" stroke-linejoin="round" stroke-linecap="round"/>
<path d="M235.0,181.3l2.3,4.6h-4.6zM238.4,181.1l2.3,4.6h-4.6zM241.8,181.0l2.3,4.6h-4.6zM245.2,180.8l2.3,4.6h-4.6zM248.6,180.5l2.3,4.6h-4.6zM252.0,180.2l2.3,4.6h-4.6zM255.3,179.9l2.3,4.6h-4.6zM258.7,179.5l2.3,4.6h-4.6zM262.1,179.2l2.3,4.6h-4.6zM265.5,178.9l2.3,4.6h-4.6zM268.9,178.5l2.3,4.6h-4.6zM272.3,178.1l2.3,4.6h-4.6zM275.6,177.7l2.3,4.6h-4.6zM279.0,177.3l2.3,4.6h-4.6zM282.4,176.9l2.3,4.6h-4.6zM285.8,176.4l2.3,4.6h-4.6zM289.1,176.0l2.3,4.6h-4.6zM292.5,175.6l2.3,4.6h-4.6zM295.9,175.1l2.3,4.6h-4.6zM299.2,174.5l2.3,4.6h-4.6zM302.5,173.9l2.3,4.6h-4.6zM305.8,173.0l2.3,4.6h-4.6zM309.1,172.1l2.3,4.6h-4.6zM312.4,171.3l2.3,4.6h-4.6zM315.7,170.5l2.3,4.6h-4.6zM319.1,169.8l2.3,4.6h-4.6zM322.4,169.1l2.3,4.6h-4.6zM325.7,168.4l2.3,4.6h-4.6zM329.0,167.6l2.3,4.6h-4.6zM332.3,166.7l2.3,4.6h-4.6zM335.4,165.3l2.3,4.6h-4.6zM338.1,163.3l2.3,4.6h-4.6zM340.1,160.6l2.3,4.6h-4.6zM341.4,157.4l2.3,4.6h-4.6zM342.2,154.1l2.3,4.6h-4.6zM342.7,150.7l2.3,4.6h-4.6zM343.1,147.4l2.3,4.6h-4.6zM343.6,144.0l2.3,4.6h-4.6zM344.1,140.7l2.3,4.6h-4.6zM344.6,137.3l2.3,4.6h-4.6zM345.2,133.9l2.3,4.6h-4.6zM345.7,130.6l2.3,4.6h-4.6zM346.1,127.2l2.3,4.6h-4.6zM346.6,123.8l2.3,4.6h-4.6zM347.1,120.5l2.3,4.6h-4.6zM348.0,117.2l2.3,4.6h-4.6zM348.6,113.8l2.3,4.6h-4.6zM349.4,110.5l2.3,4.6h-4.6zM350.3,107.3l2.3,4.6h-4.6zM351.3,104.0l2.3,4.6h-4.6zM352.5,100.8l2.3,4.6h-4.6zM353.9,97.8l2.3,4.6h-4.6zM355.6,94.8l2.3,4.6h-4.6zM357.4,91.9l2.3,4.6h-4.6zM359.1,88.9l2.3,4.6h-4.6zM360.8,86.0l2.3,4.6h-4.6zM362.8,83.2l2.3,4.6h-4.6zM364.8,80.5l2.3,4.6h-4.6zM366.9,77.9l2.3,4.6h-4.6zM369.1,75.2l2.3,4.6h-4.6zM371.2,72.6l2.3,4.6h-4.6zM373.2,69.8l2.3,4.6h-4.6zM375.1,67.0l2.3,4.6h-4.6zM377.2,64.3l2.3,4.6h-4.6zM379.4,61.7l2.3,4.6h-4.6zM381.7,59.2l2.3,4.6h-4.6zM384.2,56.9l2.3,4.6h-4.6zM386.8,54.8l2.3,4.6h-4.6zM389.7,52.9l2.3,4.6h-4.6zM392.5,51.1l2.3,4.6h-4.6zM395.6,49.6l2.3,4.6h-4.6zM398.8,48.5l2.3,4.6h-4.6zM402.1,47.7l2.3,4.6h-4.6zM405.4,47.0l2.3,4.6h-4.6zM408.8,46.5l2.3,4.6h-4.6zM412.2,46.0l2.3,4.6h-4.6zM415.5,45.6l2.3,4.6h-4.6zM418.9,45.3l2.3,4.6h-4.6zM422.3,45.0l2.3,4.6h-4.6zM425.7,44.7l2.3,4.6h-4.6zM429.1,44.4l2.3,4.6h-4.6zM432.5,44.1l2.3,4.6h-4.6zM435.9,43.9l2.3,4.6h-4.6zM439.2,43.7l2.3,4.6h-4.6zM442.6,43.4l2.3,4.6h-4.6z" fill="#1f66dc"/>
</g>
<rect x="234.9" y="37.3" width="211.6" height="156.8" fill="none" stroke="#000" stroke-width="1.3"/>
<line x1="234.9" y1="193.70" x2="238.1" y2="193.70" stroke="#000" stroke-width="1"/>
<text x="231.6" y="196.6" font-size="8.8" text-anchor="end">-80</text>
<line x1="234.9" y1="183.93" x2="236.9" y2="183.93" stroke="#000" stroke-width="1"/>
<line x1="234.9" y1="174.15" x2="238.1" y2="174.15" stroke="#000" stroke-width="1"/>
<text x="231.6" y="177.1" font-size="8.8" text-anchor="end">-60</text>
<line x1="234.9" y1="164.38" x2="236.9" y2="164.38" stroke="#000" stroke-width="1"/>
<line x1="234.9" y1="154.60" x2="238.1" y2="154.60" stroke="#000" stroke-width="1"/>
<text x="231.6" y="157.5" font-size="8.8" text-anchor="end">-40</text>
<line x1="234.9" y1="144.82" x2="236.9" y2="144.82" stroke="#000" stroke-width="1"/>
<line x1="234.9" y1="135.05" x2="238.1" y2="135.05" stroke="#000" stroke-width="1"/>
<text x="231.6" y="138.0" font-size="8.8" text-anchor="end">-20</text>
<line x1="234.9" y1="125.28" x2="236.9" y2="125.28" stroke="#000" stroke-width="1"/>
<line x1="234.9" y1="115.50" x2="238.1" y2="115.50" stroke="#000" stroke-width="1"/>
<text x="231.6" y="118.4" font-size="8.8" text-anchor="end">0</text>
<line x1="234.9" y1="105.72" x2="236.9" y2="105.72" stroke="#000" stroke-width="1"/>
<line x1="234.9" y1="95.95" x2="238.1" y2="95.95" stroke="#000" stroke-width="1"/>
<text x="231.6" y="98.9" font-size="8.8" text-anchor="end">20</text>
<line x1="234.9" y1="86.17" x2="236.9" y2="86.17" stroke="#000" stroke-width="1"/>
<line x1="234.9" y1="76.40" x2="238.1" y2="76.40" stroke="#000" stroke-width="1"/>
<text x="231.6" y="79.3" font-size="8.8" text-anchor="end">40</text>
<line x1="234.9" y1="66.62" x2="236.9" y2="66.62" stroke="#000" stroke-width="1"/>
<line x1="234.9" y1="56.85" x2="238.1" y2="56.85" stroke="#000" stroke-width="1"/>
<text x="231.6" y="59.8" font-size="8.8" text-anchor="end">60</text>
<line x1="234.9" y1="47.08" x2="236.9" y2="47.08" stroke="#000" stroke-width="1"/>
<line x1="234.9" y1="37.30" x2="238.1" y2="37.30" stroke="#000" stroke-width="1"/>
<text x="231.6" y="40.2" font-size="8.8" text-anchor="end">80</text>
<line x1="252.60000000000002" y1="194.1" x2="252.60000000000002" y2="190.9" stroke="#000" stroke-width="1"/>
<line x1="274.6" y1="194.1" x2="274.6" y2="192.1" stroke="#000" stroke-width="1"/>
<line x1="296.6" y1="194.1" x2="296.6" y2="190.9" stroke="#000" stroke-width="1"/>
<line x1="318.6" y1="194.1" x2="318.6" y2="192.1" stroke="#000" stroke-width="1"/>
<line x1="340.6" y1="194.1" x2="340.6" y2="190.9" stroke="#000" stroke-width="1"/>
<line x1="362.6" y1="194.1" x2="362.6" y2="192.1" stroke="#000" stroke-width="1"/>
<line x1="384.6" y1="194.1" x2="384.6" y2="190.9" stroke="#000" stroke-width="1"/>
<line x1="406.6" y1="194.1" x2="406.6" y2="192.1" stroke="#000" stroke-width="1"/>
<line x1="428.6" y1="194.1" x2="428.6" y2="190.9" stroke="#000" stroke-width="1"/>
<text x="252.3" y="205.7" font-size="8.6" text-anchor="middle">-2·10<tspan font-size="5.8" dy="-3.2">6</tspan></text>
<text x="296.3" y="205.7" font-size="8.6" text-anchor="middle">-1·10<tspan font-size="5.8" dy="-3.2">6</tspan></text>
<text x="384.3" y="205.7" font-size="8.6" text-anchor="middle">1·10<tspan font-size="5.8" dy="-3.2">6</tspan></text>
<text x="428.3" y="205.7" font-size="8.6" text-anchor="middle">2·10<tspan font-size="5.8" dy="-3.2">6</tspan></text>
<text x="340.6" y="205.7" font-size="8.6" text-anchor="middle">0</text>
<text x="340.6" y="215.8" font-size="9.3" text-anchor="middle">Magnetic Field (A/m)</text>
<text transform="translate(216.8,116) rotate(-90)" font-size="9.6" text-anchor="middle">Magnetization (A·m<tspan font-size="6" dy="-3">2</tspan><tspan dy="3">/kg)</tspan></text>
<text x="248.4" y="53.2" font-size="10.4" letter-spacing="0.1">Mn<tspan font-size="7" dy="2.6">55</tspan><tspan dy="-2.6">Bi</tspan><tspan font-size="7" dy="2.6">45</tspan></text>
<line x1="247.4" y1="65.8" x2="272.2" y2="65.8" stroke="#3c3c3c" stroke-width="1.5"/>
<rect x="258.4" y="64.3" width="3" height="3" fill="#3c3c3c"/>
<text x="275" y="69.1" font-size="10.2">5 m/s</text>
<line x1="247.4" y1="78.8" x2="272.2" y2="78.8" stroke="#f03a3a" stroke-width="1.5"/>
<circle cx="259.9" cy="78.8" r="1.7" fill="#f03a3a"/>
<text x="275" y="82.1" font-size="10.2">10 m/s</text>
<line x1="247.4" y1="92.2" x2="272.2" y2="92.2" stroke="#1f66dc" stroke-width="1.7"/>
<path d="M259.9,89.9L261.9,93.7L257.9,93.7Z" fill="#1f66dc"/>
<text x="275" y="95.5" font-size="10.2">15 m/s</text>
<g class="n">
<radialGradient id="sp" cx="0.38" cy="0.32" r="0.7"><stop offset="0" stop-color="#9a9a9a"/><stop offset="0.35" stop-color="#2a2a2a"/><stop offset="1" stop-color="#000"/></radialGradient>
<rect x="368.6" y="123.3" width="69.5" height="56.7" fill="#fff" stroke="#111" stroke-width="0.8"/>
<polyline points="373.4,172.6 403.2,150.5 433.0,131.8" fill="none" stroke="#111" stroke-width="1"/>
<circle cx="373.4" cy="172.6" r="2.3" fill="url(#sp)" stroke="#000" stroke-width="0.4"/>
<line x1="373.4" y1="180.0" x2="373.4" y2="178.4" stroke="#111" stroke-width="0.6"/>
<text x="373.4" y="184.8" font-size="4.4" text-anchor="middle">5</text>
<circle cx="403.2" cy="150.5" r="2.3" fill="url(#sp)" stroke="#000" stroke-width="0.4"/>
<line x1="403.2" y1="180.0" x2="403.2" y2="178.4" stroke="#111" stroke-width="0.6"/>
<text x="403.2" y="184.8" font-size="4.4" text-anchor="middle">10</text>
<circle cx="433.0" cy="131.8" r="2.3" fill="url(#sp)" stroke="#000" stroke-width="0.4"/>
<line x1="433.0" y1="180.0" x2="433.0" y2="178.4" stroke="#111" stroke-width="0.6"/>
<text x="433.0" y="184.8" font-size="4.4" text-anchor="middle">15</text>
<line x1="388.3" y1="180.0" x2="388.3" y2="179.0" stroke="#111" stroke-width="0.5"/>
<line x1="418.1" y1="180.0" x2="418.1" y2="179.0" stroke="#111" stroke-width="0.5"/>
<line x1="368.6" y1="180.0" x2="370.20000000000005" y2="180.0" stroke="#111" stroke-width="0.6"/>
<text x="366.6" y="181.5" font-size="4.4" text-anchor="end">62</text>
<line x1="368.6" y1="174.3" x2="369.6" y2="174.3" stroke="#111" stroke-width="0.6"/>
<line x1="368.6" y1="168.7" x2="370.20000000000005" y2="168.7" stroke="#111" stroke-width="0.6"/>
<text x="366.6" y="170.2" font-size="4.4" text-anchor="end">64</text>
<line x1="368.6" y1="163.0" x2="369.6" y2="163.0" stroke="#111" stroke-width="0.6"/>
<line x1="368.6" y1="157.3" x2="370.20000000000005" y2="157.3" stroke="#111" stroke-width="0.6"/>
<text x="366.6" y="158.8" font-size="4.4" text-anchor="end">66</text>
<line x1="368.6" y1="151.7" x2="369.6" y2="151.7" stroke="#111" stroke-width="0.6"/>
<line x1="368.6" y1="146.0" x2="370.20000000000005" y2="146.0" stroke="#111" stroke-width="0.6"/>
<text x="366.6" y="147.5" font-size="4.4" text-anchor="end">68</text>
<line x1="368.6" y1="140.3" x2="369.6" y2="140.3" stroke="#111" stroke-width="0.6"/>
<line x1="368.6" y1="134.6" x2="370.20000000000005" y2="134.6" stroke="#111" stroke-width="0.6"/>
<text x="366.6" y="136.1" font-size="4.4" text-anchor="end">70</text>
<line x1="368.6" y1="129.0" x2="369.6" y2="129.0" stroke="#111" stroke-width="0.6"/>
<line x1="368.6" y1="123.3" x2="370.20000000000005" y2="123.3" stroke="#111" stroke-width="0.6"/>
<text x="366.6" y="124.8" font-size="4.4" text-anchor="end">72</text>
<text x="403" y="189.2" font-size="4.7" text-anchor="middle" textLength="37" lengthAdjust="spacingAndGlyphs">Wheel Speed (m/s)</text>
<text transform="translate(360.4,153) rotate(-90)" font-size="4.6" text-anchor="middle"><tspan class="i">M</tspan><tspan font-size="3.2" dy="1">s</tspan><tspan dy="-1"> (A·m</tspan><tspan font-size="3.2" dy="-1.5">2</tspan><tspan dy="1.5">/kg)</tspan></text>
</g>
</g>
</svg></body></html>
